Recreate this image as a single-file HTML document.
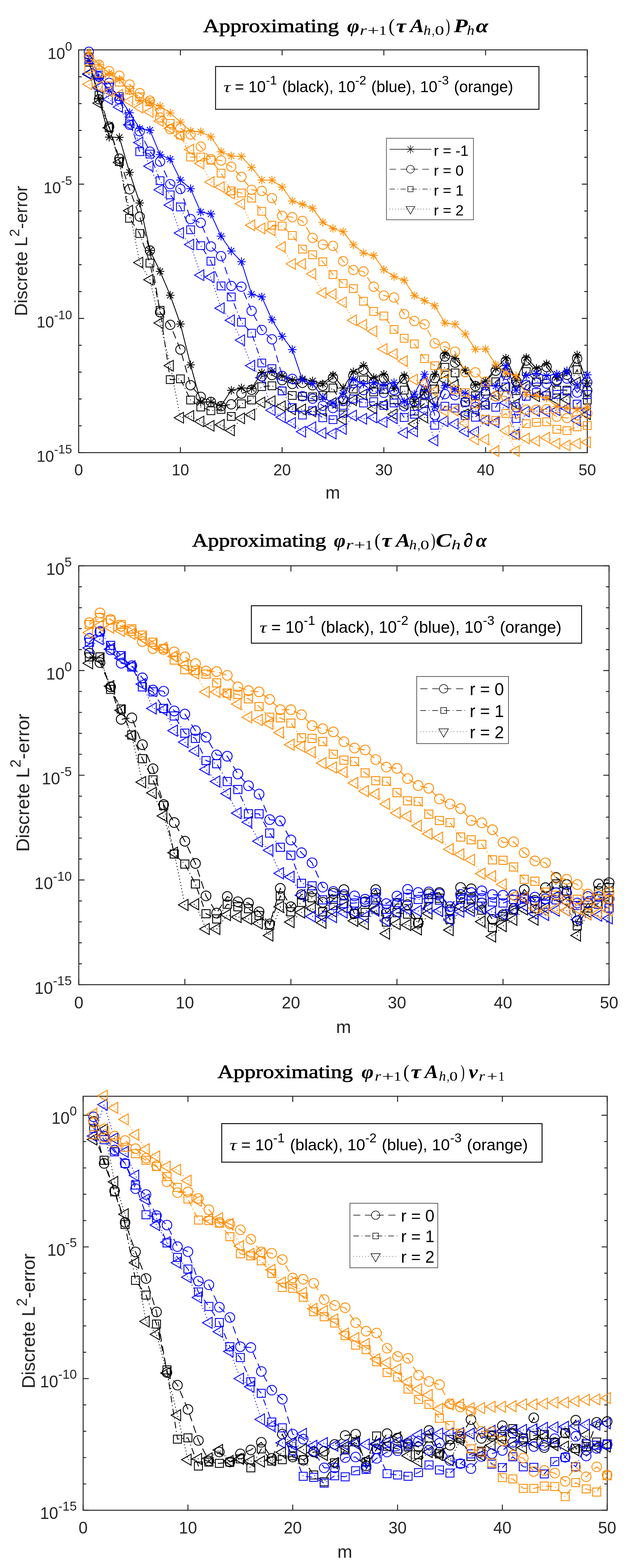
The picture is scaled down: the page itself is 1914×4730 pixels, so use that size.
<!DOCTYPE html>
<html><head><meta charset="utf-8"><title>Approximating plots</title>
<style>html,body{margin:0;padding:0;background:#fff;}svg{display:block;}</style>
</head><body>
<svg width="1914" height="4730" viewBox="0 0 1914 4730">
<rect width="1914" height="4730" fill="#fff"/>
<g stroke="#262626" stroke-width="2.9" fill="none">
<rect x="237.5" y="150.5" width="1535.5" height="1214.9"/>
<path d="M237.5 150.5H254M1773 150.5H1756.5M237.5 231.5H246.5M1773 231.5H1764M237.5 312.5H246.5M1773 312.5H1764M237.5 393.5H246.5M1773 393.5H1764M237.5 474.5H246.5M1773 474.5H1764M237.5 555.5H254M1773 555.5H1756.5M237.5 636.5H246.5M1773 636.5H1764M237.5 717.5H246.5M1773 717.5H1764M237.5 798.5H246.5M1773 798.5H1764M237.5 879.5H246.5M1773 879.5H1764M237.5 960.5H254M1773 960.5H1756.5M237.5 1041.5H246.5M1773 1041.5H1764M237.5 1122.5H246.5M1773 1122.5H1764M237.5 1203.5H246.5M1773 1203.5H1764M237.5 1284.5H246.5M1773 1284.5H1764M237.5 1365.5H254M1773 1365.5H1756.5M237.5 1365.4V1348.9M237.5 150.5V167M544.6 1365.4V1348.9M544.6 150.5V167M851.7 1365.4V1348.9M851.7 150.5V167M1158.8 1365.4V1348.9M1158.8 150.5V167M1465.9 1365.4V1348.9M1465.9 150.5V167M1773 1365.4V1348.9M1773 150.5V167"/>
</g>
<g fill="#262626" font-family="'Liberation Sans', Arial, Helvetica, sans-serif">
<text x="217.5" y="177.8" text-anchor="end" font-size="47.5">10<tspan font-size="37.5" dy="-25">0</tspan></text>
<text x="217.5" y="582.8" text-anchor="end" font-size="47.5">10<tspan font-size="37.5" dy="-25">-5</tspan></text>
<text x="217.5" y="987.8" text-anchor="end" font-size="47.5">10<tspan font-size="37.5" dy="-25">-10</tspan></text>
<text x="217.5" y="1392.8" text-anchor="end" font-size="47.5">10<tspan font-size="37.5" dy="-25">-15</tspan></text>
<text x="237.5" y="1434" text-anchor="middle" font-size="47.5">0</text>
<text x="544.6" y="1434" text-anchor="middle" font-size="47.5">10</text>
<text x="851.7" y="1434" text-anchor="middle" font-size="47.5">20</text>
<text x="1158.8" y="1434" text-anchor="middle" font-size="47.5">30</text>
<text x="1465.9" y="1434" text-anchor="middle" font-size="47.5">40</text>
<text x="1773" y="1434" text-anchor="middle" font-size="47.5">50</text>
</g>
<g stroke="#000000" fill="none" stroke-width="2.5">
<polyline points="268.2,182.9 298.9,297.9 329.6,413.8 360.3,414.6 391.1,519.9 421.8,612.2 452.5,755.6 483.2,818.8 513.9,890.8 544.6,977.5 575.3,1100.6 606,1212.4 636.7,1212.4 667.4,1223.8 698.2,1177.6 728.9,1170.3 759.6,1171.9 790.3,1124.1 821,1120.1 851.7,1133.8 882.4,1146.8 913.1,1142.8 943.8,1149.2 974.5,1158.1 1005.2,1131.4 1036,1170.3 1066.7,1121.7 1097.4,1102.2 1128.1,1138.7 1158.8,1129 1189.5,1171.1 1220.2,1133 1250.9,1211.6 1281.6,1182.4 1312.4,1129 1343.1,1065.8 1373.8,1081.2 1404.5,1116.8 1435.2,1161.4 1465.9,1149.2 1496.6,1111.2 1527.3,1080.4 1558,1146.8 1588.7,1078.8 1619.5,1111.2 1650.2,1097.4 1680.9,1138.7 1711.6,1122.5 1742.3,1070.7 1773,1155.7"/>
<path d="M268.2 169.9V195.9M255.2 182.9H281.2M259 173.7L277.4 192.1M259 192.1L277.4 173.7"/><path d="M298.9 284.9V310.9M285.9 297.9H311.9M289.7 288.7L308.1 307.1M289.7 307.1L308.1 288.7"/><path d="M329.6 400.8V426.8M316.6 413.8H342.6M320.4 404.6L338.8 422.9M320.4 422.9L338.8 404.6"/><path d="M360.3 401.6V427.6M347.3 414.6H373.3M351.1 405.4L369.5 423.8M351.1 423.8L369.5 405.4"/><path d="M391.1 506.9V532.9M378.1 519.9H404.1M381.9 510.7L400.2 529.1M381.9 529.1L400.2 510.7"/><path d="M421.8 599.2V625.2M408.8 612.2H434.8M412.6 603L431 621.4M412.6 621.4L431 603"/><path d="M452.5 742.6V768.6M439.5 755.6H465.5M443.3 746.4L461.7 764.8M443.3 764.8L461.7 746.4"/><path d="M483.2 805.8V831.8M470.2 818.8H496.2M474 809.6L492.4 827.9M474 827.9L492.4 809.6"/><path d="M513.9 877.8V903.8M500.9 890.8H526.9M504.7 881.6L523.1 900M504.7 900L523.1 881.6"/><path d="M544.6 964.5V990.5M531.6 977.5H557.6M535.4 968.3L553.8 986.7M535.4 986.7L553.8 968.3"/><path d="M575.3 1087.6V1113.6M562.3 1100.6H588.3M566.1 1091.4L584.5 1109.8M566.1 1109.8L584.5 1091.4"/><path d="M606 1199.4V1225.4M593 1212.4H619M596.8 1203.2L615.2 1221.6M596.8 1221.6L615.2 1203.2"/><path d="M636.7 1199.4V1225.4M623.7 1212.4H649.7M627.5 1203.2L645.9 1221.6M627.5 1221.6L645.9 1203.2"/><path d="M667.4 1210.8V1236.8M654.4 1223.8H680.4M658.2 1214.6L676.6 1232.9M658.2 1232.9L676.6 1214.6"/><path d="M698.2 1164.6V1190.6M685.2 1177.6H711.2M689 1168.4L707.3 1186.8M689 1186.8L707.3 1168.4"/><path d="M728.9 1157.3V1183.3M715.9 1170.3H741.9M719.7 1161.1L738.1 1179.5M719.7 1179.5L738.1 1161.1"/><path d="M759.6 1158.9V1184.9M746.6 1171.9H772.6M750.4 1162.7L768.8 1181.1M750.4 1181.1L768.8 1162.7"/><path d="M790.3 1111.1V1137.1M777.3 1124.1H803.3M781.1 1114.9L799.5 1133.3M781.1 1133.3L799.5 1114.9"/><path d="M821 1107.1V1133.1M808 1120.1H834M811.8 1110.9L830.2 1129.3M811.8 1129.3L830.2 1110.9"/><path d="M851.7 1120.8V1146.8M838.7 1133.8H864.7M842.5 1124.6L860.9 1143M842.5 1143L860.9 1124.6"/><path d="M882.4 1133.8V1159.8M869.4 1146.8H895.4M873.2 1137.6L891.6 1156M873.2 1156L891.6 1137.6"/><path d="M913.1 1129.8V1155.8M900.1 1142.8H926.1M903.9 1133.6L922.3 1151.9M903.9 1151.9L922.3 1133.6"/><path d="M943.8 1136.2V1162.2M930.8 1149.2H956.8M934.6 1140L953 1158.4M934.6 1158.4L953 1140"/><path d="M974.5 1145.1V1171.1M961.5 1158.1H987.5M965.3 1148.9L983.7 1167.3M965.3 1167.3L983.7 1148.9"/><path d="M1005.2 1118.4V1144.4M992.2 1131.4H1018.2M996.1 1122.2L1014.4 1140.6M996.1 1140.6L1014.4 1122.2"/><path d="M1036 1157.3V1183.3M1023 1170.3H1049M1026.8 1161.1L1045.2 1179.5M1026.8 1179.5L1045.2 1161.1"/><path d="M1066.7 1108.7V1134.7M1053.7 1121.7H1079.7M1057.5 1112.5L1075.9 1130.9M1057.5 1130.9L1075.9 1112.5"/><path d="M1097.4 1089.2V1115.2M1084.4 1102.2H1110.4M1088.2 1093.1L1106.6 1111.4M1088.2 1111.4L1106.6 1093.1"/><path d="M1128.1 1125.7V1151.7M1115.1 1138.7H1141.1M1118.9 1129.5L1137.3 1147.9M1118.9 1147.9L1137.3 1129.5"/><path d="M1158.8 1116V1142M1145.8 1129H1171.8M1149.6 1119.8L1168 1138.2M1149.6 1138.2L1168 1119.8"/><path d="M1189.5 1158.1V1184.1M1176.5 1171.1H1202.5M1180.3 1161.9L1198.7 1180.3M1180.3 1180.3L1198.7 1161.9"/><path d="M1220.2 1120V1146M1207.2 1133H1233.2M1211 1123.8L1229.4 1142.2M1211 1142.2L1229.4 1123.8"/><path d="M1250.9 1198.6V1224.6M1237.9 1211.6H1263.9M1241.7 1202.4L1260.1 1220.8M1241.7 1220.8L1260.1 1202.4"/><path d="M1281.6 1169.4V1195.4M1268.6 1182.4H1294.6M1272.4 1173.2L1290.8 1191.6M1272.4 1191.6L1290.8 1173.2"/><path d="M1312.4 1116V1142M1299.4 1129H1325.4M1303.2 1119.8L1321.5 1138.2M1303.2 1138.2L1321.5 1119.8"/><path d="M1343.1 1052.8V1078.8M1330.1 1065.8H1356.1M1333.9 1056.6L1352.3 1075M1333.9 1075L1352.3 1056.6"/><path d="M1373.8 1068.2V1094.2M1360.8 1081.2H1386.8M1364.6 1072L1383 1090.4M1364.6 1090.4L1383 1072"/><path d="M1404.5 1103.8V1129.8M1391.5 1116.8H1417.5M1395.3 1107.6L1413.7 1126M1395.3 1126L1413.7 1107.6"/><path d="M1435.2 1148.4V1174.4M1422.2 1161.4H1448.2M1426 1152.2L1444.4 1170.6M1426 1170.6L1444.4 1152.2"/><path d="M1465.9 1136.2V1162.2M1452.9 1149.2H1478.9M1456.7 1140L1475.1 1158.4M1456.7 1158.4L1475.1 1140"/><path d="M1496.6 1098.2V1124.2M1483.6 1111.2H1509.6M1487.4 1102L1505.8 1120.4M1487.4 1120.4L1505.8 1102"/><path d="M1527.3 1067.4V1093.4M1514.3 1080.4H1540.3M1518.1 1071.2L1536.5 1089.6M1518.1 1089.6L1536.5 1071.2"/><path d="M1558 1133.8V1159.8M1545 1146.8H1571M1548.8 1137.6L1567.2 1156M1548.8 1156L1567.2 1137.6"/><path d="M1588.7 1065.8V1091.8M1575.7 1078.8H1601.7M1579.5 1069.6L1597.9 1088M1579.5 1088L1597.9 1069.6"/><path d="M1619.5 1098.2V1124.2M1606.5 1111.2H1632.5M1610.3 1102L1628.6 1120.4M1610.3 1120.4L1628.6 1102"/><path d="M1650.2 1084.4V1110.4M1637.2 1097.4H1663.2M1641 1088.2L1659.4 1106.6M1641 1106.6L1659.4 1088.2"/><path d="M1680.9 1125.7V1151.7M1667.9 1138.7H1693.9M1671.7 1129.5L1690.1 1147.9M1671.7 1147.9L1690.1 1129.5"/><path d="M1711.6 1109.5V1135.5M1698.6 1122.5H1724.6M1702.4 1113.3L1720.8 1131.7M1702.4 1131.7L1720.8 1113.3"/><path d="M1742.3 1057.7V1083.7M1729.3 1070.7H1755.3M1733.1 1061.5L1751.5 1079.9M1733.1 1079.9L1751.5 1061.5"/><path d="M1773 1142.7V1168.7M1760 1155.7H1786M1763.8 1146.5L1782.2 1164.9M1763.8 1164.9L1782.2 1146.5"/>
</g>
<g stroke="#000000" fill="none" stroke-width="2.5">
<polyline points="268.2,172.4 298.9,299.5 329.6,382.2 360.3,478.6 391.1,570.9 421.8,653.5 452.5,755.6 483.2,941.9 513.9,979.9 544.6,1054.5 575.3,1162.2 606,1197 636.7,1212.4 667.4,1225.4 698.2,1219.7 728.9,1187.3 759.6,1176 790.3,1135.5 821,1131.4 851.7,1146.8 882.4,1158.1 913.1,1154.9 943.8,1162.2 974.5,1163.8 1005.2,1139.5 1036,1204.3 1066.7,1133 1097.4,1116 1128.1,1154.1 1158.8,1140.3 1189.5,1176.8 1220.2,1142.8 1250.9,1211.6 1281.6,1187.3 1312.4,1140.3 1343.1,1075.5 1373.8,1094.2 1404.5,1122.5 1435.2,1164.6 1465.9,1151.7 1496.6,1118.4 1527.3,1090.1 1558,1149.2 1588.7,1087.7 1619.5,1120.9 1650.2,1107.1 1680.9,1146 1711.6,1130.6 1742.3,1082 1773,1178.4" stroke-dasharray="22.5 13.8"/>
<circle cx="268.2" cy="172.4" r="14.1"/><circle cx="298.9" cy="299.5" r="14.1"/><circle cx="329.6" cy="382.2" r="14.1"/><circle cx="360.3" cy="478.6" r="14.1"/><circle cx="391.1" cy="570.9" r="14.1"/><circle cx="421.8" cy="653.5" r="14.1"/><circle cx="452.5" cy="755.6" r="14.1"/><circle cx="483.2" cy="941.9" r="14.1"/><circle cx="513.9" cy="979.9" r="14.1"/><circle cx="544.6" cy="1054.5" r="14.1"/><circle cx="575.3" cy="1162.2" r="14.1"/><circle cx="606" cy="1197" r="14.1"/><circle cx="636.7" cy="1212.4" r="14.1"/><circle cx="667.4" cy="1225.4" r="14.1"/><circle cx="698.2" cy="1219.7" r="14.1"/><circle cx="728.9" cy="1187.3" r="14.1"/><circle cx="759.6" cy="1176" r="14.1"/><circle cx="790.3" cy="1135.5" r="14.1"/><circle cx="821" cy="1131.4" r="14.1"/><circle cx="851.7" cy="1146.8" r="14.1"/><circle cx="882.4" cy="1158.1" r="14.1"/><circle cx="913.1" cy="1154.9" r="14.1"/><circle cx="943.8" cy="1162.2" r="14.1"/><circle cx="974.5" cy="1163.8" r="14.1"/><circle cx="1005.2" cy="1139.5" r="14.1"/><circle cx="1036" cy="1204.3" r="14.1"/><circle cx="1066.7" cy="1133" r="14.1"/><circle cx="1097.4" cy="1116" r="14.1"/><circle cx="1128.1" cy="1154.1" r="14.1"/><circle cx="1158.8" cy="1140.3" r="14.1"/><circle cx="1189.5" cy="1176.8" r="14.1"/><circle cx="1220.2" cy="1142.8" r="14.1"/><circle cx="1250.9" cy="1211.6" r="14.1"/><circle cx="1281.6" cy="1187.3" r="14.1"/><circle cx="1312.4" cy="1140.3" r="14.1"/><circle cx="1343.1" cy="1075.5" r="14.1"/><circle cx="1373.8" cy="1094.2" r="14.1"/><circle cx="1404.5" cy="1122.5" r="14.1"/><circle cx="1435.2" cy="1164.6" r="14.1"/><circle cx="1465.9" cy="1151.7" r="14.1"/><circle cx="1496.6" cy="1118.4" r="14.1"/><circle cx="1527.3" cy="1090.1" r="14.1"/><circle cx="1558" cy="1149.2" r="14.1"/><circle cx="1588.7" cy="1087.7" r="14.1"/><circle cx="1619.5" cy="1120.9" r="14.1"/><circle cx="1650.2" cy="1107.1" r="14.1"/><circle cx="1680.9" cy="1146" r="14.1"/><circle cx="1711.6" cy="1130.6" r="14.1"/><circle cx="1742.3" cy="1082" r="14.1"/><circle cx="1773" cy="1178.4" r="14.1"/>
</g>
<g stroke="#000000" fill="none" stroke-width="2.5">
<polyline points="268.2,187.8 298.9,286.6 329.6,385.4 360.3,487.5 391.1,658.4 421.8,704.5 452.5,793.6 483.2,936.2 513.9,1145.2 544.6,1142.8 575.3,1206.7 606,1227.8 636.7,1239.1 667.4,1235.1 698.2,1256.2 728.9,1218.1 759.6,1206.7 790.3,1166.2 821,1163.8 851.7,1179.2 882.4,1193 913.1,1195.4 943.8,1197 974.5,1193 1005.2,1170.3 1036,1227.8 1066.7,1173.5 1097.4,1146 1128.1,1182.4 1158.8,1175.2 1189.5,1205.9 1220.2,1176.8 1250.9,1240 1281.6,1217.3 1312.4,1173.5 1343.1,1107.9 1373.8,1124.9 1404.5,1213.2 1435.2,1193.8 1465.9,1180 1496.6,1151.7 1527.3,1124.9 1558,1178.4 1588.7,1120.9 1619.5,1151.7 1650.2,1143.6 1680.9,1176.8 1711.6,1176.8 1742.3,1115.2 1773,1206.7" stroke-dasharray="19 8.3 2.5 8.3"/>
<rect x="256.4" y="176" width="23.6" height="23.6"/><rect x="287.1" y="274.8" width="23.6" height="23.6"/><rect x="317.8" y="373.6" width="23.6" height="23.6"/><rect x="348.5" y="475.7" width="23.6" height="23.6"/><rect x="379.2" y="646.6" width="23.6" height="23.6"/><rect x="410" y="692.7" width="23.6" height="23.6"/><rect x="440.7" y="781.8" width="23.6" height="23.6"/><rect x="471.4" y="924.4" width="23.6" height="23.6"/><rect x="502.1" y="1133.4" width="23.6" height="23.6"/><rect x="532.8" y="1131" width="23.6" height="23.6"/><rect x="563.5" y="1194.9" width="23.6" height="23.6"/><rect x="594.2" y="1216" width="23.6" height="23.6"/><rect x="624.9" y="1227.3" width="23.6" height="23.6"/><rect x="655.6" y="1223.3" width="23.6" height="23.6"/><rect x="686.4" y="1244.4" width="23.6" height="23.6"/><rect x="717.1" y="1206.3" width="23.6" height="23.6"/><rect x="747.8" y="1194.9" width="23.6" height="23.6"/><rect x="778.5" y="1154.4" width="23.6" height="23.6"/><rect x="809.2" y="1152" width="23.6" height="23.6"/><rect x="839.9" y="1167.4" width="23.6" height="23.6"/><rect x="870.6" y="1181.2" width="23.6" height="23.6"/><rect x="901.3" y="1183.6" width="23.6" height="23.6"/><rect x="932" y="1185.2" width="23.6" height="23.6"/><rect x="962.7" y="1181.2" width="23.6" height="23.6"/><rect x="993.5" y="1158.5" width="23.6" height="23.6"/><rect x="1024.2" y="1216" width="23.6" height="23.6"/><rect x="1054.9" y="1161.7" width="23.6" height="23.6"/><rect x="1085.6" y="1134.2" width="23.6" height="23.6"/><rect x="1116.3" y="1170.6" width="23.6" height="23.6"/><rect x="1147" y="1163.4" width="23.6" height="23.6"/><rect x="1177.7" y="1194.1" width="23.6" height="23.6"/><rect x="1208.4" y="1165" width="23.6" height="23.6"/><rect x="1239.1" y="1228.2" width="23.6" height="23.6"/><rect x="1269.8" y="1205.5" width="23.6" height="23.6"/><rect x="1300.6" y="1161.7" width="23.6" height="23.6"/><rect x="1331.3" y="1096.1" width="23.6" height="23.6"/><rect x="1362" y="1113.1" width="23.6" height="23.6"/><rect x="1392.7" y="1201.4" width="23.6" height="23.6"/><rect x="1423.4" y="1182" width="23.6" height="23.6"/><rect x="1454.1" y="1168.2" width="23.6" height="23.6"/><rect x="1484.8" y="1139.9" width="23.6" height="23.6"/><rect x="1515.5" y="1113.1" width="23.6" height="23.6"/><rect x="1546.2" y="1166.6" width="23.6" height="23.6"/><rect x="1576.9" y="1109.1" width="23.6" height="23.6"/><rect x="1607.7" y="1139.9" width="23.6" height="23.6"/><rect x="1638.4" y="1131.8" width="23.6" height="23.6"/><rect x="1669.1" y="1165" width="23.6" height="23.6"/><rect x="1699.8" y="1165" width="23.6" height="23.6"/><rect x="1730.5" y="1103.4" width="23.6" height="23.6"/><rect x="1761.2" y="1194.9" width="23.6" height="23.6"/>
</g>
<g stroke="#000000" fill="none" stroke-width="2.5">
<polyline points="268.2,224.2 298.9,310.9 329.6,385.4 360.3,489.9 391.1,635.7 421.8,792 452.5,843.9 483.2,974.3 513.9,1103.1 544.6,1260.2 575.3,1254.5 606,1271.5 636.7,1284.5 667.4,1281.3 698.2,1298.3 728.9,1261.8 759.6,1250.5 790.3,1214 821,1210 851.7,1225.4 882.4,1235.1 913.1,1235.1 943.8,1240.8 974.5,1239.1 1005.2,1215.7 1036,1265.9 1066.7,1207.5 1097.4,1190.5 1128.1,1232.7 1158.8,1221.3 1189.5,1249.7 1220.2,1219.7 1250.9,1278.8 1281.6,1259.4 1312.4,1210 1343.1,1146 1373.8,1161.4 1404.5,1249.7 1435.2,1237.5 1465.9,1218.9 1496.6,1191.3 1527.3,1168.7 1558,1218.9 1588.7,1164.6 1619.5,1195.4 1650.2,1188.1 1680.9,1206.7 1711.6,1205.1 1742.3,1153.3 1773,1249.7" stroke-dasharray="2.5 6.9"/>
<polygon points="249.5,224.2 277.6,208 277.6,240.4"/><polygon points="280.2,310.9 308.3,294.7 308.3,327.1"/><polygon points="310.9,385.4 339,369.2 339,401.6"/><polygon points="341.6,489.9 369.7,473.7 369.7,506.1"/><polygon points="372.4,635.7 400.4,619.5 400.4,651.9"/><polygon points="403.1,792 431.1,775.8 431.1,808.2"/><polygon points="433.8,843.9 461.8,827.7 461.8,860.1"/><polygon points="464.5,974.3 492.5,958.1 492.5,990.5"/><polygon points="495.2,1103.1 523.2,1086.9 523.2,1119.3"/><polygon points="525.9,1260.2 554,1244 554,1276.4"/><polygon points="556.6,1254.5 584.7,1238.3 584.7,1270.7"/><polygon points="587.3,1271.5 615.4,1255.3 615.4,1287.7"/><polygon points="618,1284.5 646.1,1268.3 646.1,1300.7"/><polygon points="648.7,1281.3 676.8,1265.1 676.8,1297.5"/><polygon points="679.5,1298.3 707.5,1282.1 707.5,1314.5"/><polygon points="710.2,1261.8 738.2,1245.6 738.2,1278"/><polygon points="740.9,1250.5 768.9,1234.3 768.9,1266.7"/><polygon points="771.6,1214 799.6,1197.8 799.6,1230.2"/><polygon points="802.3,1210 830.3,1193.8 830.3,1226.2"/><polygon points="833,1225.4 861.1,1209.2 861.1,1241.6"/><polygon points="863.7,1235.1 891.8,1218.9 891.8,1251.3"/><polygon points="894.4,1235.1 922.5,1218.9 922.5,1251.3"/><polygon points="925.1,1240.8 953.2,1224.6 953.2,1257"/><polygon points="955.8,1239.1 983.9,1222.9 983.9,1255.3"/><polygon points="986.5,1215.7 1014.6,1199.5 1014.6,1231.8"/><polygon points="1017.3,1265.9 1045.3,1249.7 1045.3,1282.1"/><polygon points="1048,1207.5 1076,1191.4 1076,1223.7"/><polygon points="1078.7,1190.5 1106.7,1174.3 1106.7,1206.7"/><polygon points="1109.4,1232.7 1137.4,1216.5 1137.4,1248.9"/><polygon points="1140.1,1221.3 1168.2,1205.1 1168.2,1237.5"/><polygon points="1170.8,1249.7 1198.9,1233.5 1198.9,1265.9"/><polygon points="1201.5,1219.7 1229.6,1203.5 1229.6,1235.9"/><polygon points="1232.2,1278.8 1260.3,1262.6 1260.3,1295"/><polygon points="1262.9,1259.4 1291,1243.2 1291,1275.6"/><polygon points="1293.7,1210 1321.7,1193.8 1321.7,1226.2"/><polygon points="1324.4,1146 1352.4,1129.8 1352.4,1162.2"/><polygon points="1355.1,1161.4 1383.1,1145.2 1383.1,1177.6"/><polygon points="1385.8,1249.7 1413.8,1233.5 1413.8,1265.9"/><polygon points="1416.5,1237.5 1444.5,1221.3 1444.5,1253.7"/><polygon points="1447.2,1218.9 1475.2,1202.7 1475.2,1235.1"/><polygon points="1477.9,1191.3 1506,1175.2 1506,1207.5"/><polygon points="1508.6,1168.7 1536.7,1152.5 1536.7,1184.9"/><polygon points="1539.3,1218.9 1567.4,1202.7 1567.4,1235.1"/><polygon points="1570,1164.6 1598.1,1148.4 1598.1,1180.8"/><polygon points="1600.8,1195.4 1628.8,1179.2 1628.8,1211.6"/><polygon points="1631.5,1188.1 1659.5,1171.9 1659.5,1204.3"/><polygon points="1662.2,1206.7 1690.2,1190.5 1690.2,1222.9"/><polygon points="1692.9,1205.1 1720.9,1188.9 1720.9,1221.3"/><polygon points="1723.6,1153.3 1751.6,1137.1 1751.6,1169.5"/><polygon points="1754.3,1249.7 1782.3,1233.5 1782.3,1265.9"/>
</g>
<g stroke="#0000FF" fill="none" stroke-width="2.5">
<polyline points="268.2,182.9 298.9,235.6 329.6,274.4 360.3,292.2 391.1,340 421.8,387.8 452.5,392.7 483.2,466.4 513.9,480.2 544.6,543.3 575.3,569.3 606,639.7 636.7,645.4 667.4,712.6 698.2,757.2 728.9,789.6 759.6,887.6 790.3,895.7 821,964.6 851.7,1014.8 882.4,1054.5 913.1,1146.8 943.8,1158.1 974.5,1198.6 1005.2,1215.7 1036,1185.7 1066.7,1144.4 1097.4,1158.1 1128.1,1154.1 1158.8,1161.4 1189.5,1154.1 1220.2,1211.6 1250.9,1188.9 1281.6,1129 1312.4,1227 1343.1,1163.8 1373.8,1175.2 1404.5,1185.7 1435.2,1199.5 1465.9,1163 1496.6,1164.6 1527.3,1103.1 1558,1176.8 1588.7,1132.2 1619.5,1126.6 1650.2,1133.8 1680.9,1128.2 1711.6,1118.4 1742.3,1161.4 1773,1130.6"/>
<path d="M268.2 169.9V195.9M255.2 182.9H281.2M259 173.7L277.4 192.1M259 192.1L277.4 173.7"/><path d="M298.9 222.6V248.6M285.9 235.6H311.9M289.7 226.4L308.1 244.7M289.7 244.7L308.1 226.4"/><path d="M329.6 261.4V287.4M316.6 274.4H342.6M320.4 265.2L338.8 283.6M320.4 283.6L338.8 265.2"/><path d="M360.3 279.2V305.2M347.3 292.2H373.3M351.1 283.1L369.5 301.4M351.1 301.4L369.5 283.1"/><path d="M391.1 327V353M378.1 340H404.1M381.9 330.8L400.2 349.2M381.9 349.2L400.2 330.8"/><path d="M421.8 374.8V400.8M408.8 387.8H434.8M412.6 378.6L431 397M412.6 397L431 378.6"/><path d="M452.5 379.7V405.7M439.5 392.7H465.5M443.3 383.5L461.7 401.9M443.3 401.9L461.7 383.5"/><path d="M483.2 453.4V479.4M470.2 466.4H496.2M474 457.2L492.4 475.6M474 475.6L492.4 457.2"/><path d="M513.9 467.2V493.2M500.9 480.2H526.9M504.7 471L523.1 489.4M504.7 489.4L523.1 471"/><path d="M544.6 530.3V556.3M531.6 543.3H557.6M535.4 534.2L553.8 552.5M535.4 552.5L553.8 534.2"/><path d="M575.3 556.3V582.3M562.3 569.3H588.3M566.1 560.1L584.5 578.5M566.1 578.5L584.5 560.1"/><path d="M606 626.7V652.7M593 639.7H619M596.8 630.5L615.2 648.9M596.8 648.9L615.2 630.5"/><path d="M636.7 632.4V658.4M623.7 645.4H649.7M627.5 636.2L645.9 654.6M627.5 654.6L645.9 636.2"/><path d="M667.4 699.6V725.6M654.4 712.6H680.4M658.2 703.4L676.6 721.8M658.2 721.8L676.6 703.4"/><path d="M698.2 744.2V770.2M685.2 757.2H711.2M689 748L707.3 766.4M689 766.4L707.3 748"/><path d="M728.9 776.6V802.6M715.9 789.6H741.9M719.7 780.4L738.1 798.8M719.7 798.8L738.1 780.4"/><path d="M759.6 874.6V900.6M746.6 887.6H772.6M750.4 878.4L768.8 896.8M750.4 896.8L768.8 878.4"/><path d="M790.3 882.7V908.7M777.3 895.7H803.3M781.1 886.5L799.5 904.9M781.1 904.9L799.5 886.5"/><path d="M821 951.6V977.6M808 964.6H834M811.8 955.4L830.2 973.7M811.8 973.7L830.2 955.4"/><path d="M851.7 1001.8V1027.8M838.7 1014.8H864.7M842.5 1005.6L860.9 1024M842.5 1024L860.9 1005.6"/><path d="M882.4 1041.5V1067.5M869.4 1054.5H895.4M873.2 1045.3L891.6 1063.7M873.2 1063.7L891.6 1045.3"/><path d="M913.1 1133.8V1159.8M900.1 1146.8H926.1M903.9 1137.6L922.3 1156M903.9 1156L922.3 1137.6"/><path d="M943.8 1145.1V1171.1M930.8 1158.1H956.8M934.6 1148.9L953 1167.3M934.6 1167.3L953 1148.9"/><path d="M974.5 1185.6V1211.6M961.5 1198.6H987.5M965.3 1189.4L983.7 1207.8M965.3 1207.8L983.7 1189.4"/><path d="M1005.2 1202.7V1228.7M992.2 1215.7H1018.2M996.1 1206.5L1014.4 1224.8M996.1 1224.8L1014.4 1206.5"/><path d="M1036 1172.7V1198.7M1023 1185.7H1049M1026.8 1176.5L1045.2 1194.9M1026.8 1194.9L1045.2 1176.5"/><path d="M1066.7 1131.4V1157.4M1053.7 1144.4H1079.7M1057.5 1135.2L1075.9 1153.6M1057.5 1153.6L1075.9 1135.2"/><path d="M1097.4 1145.1V1171.1M1084.4 1158.1H1110.4M1088.2 1148.9L1106.6 1167.3M1088.2 1167.3L1106.6 1148.9"/><path d="M1128.1 1141.1V1167.1M1115.1 1154.1H1141.1M1118.9 1144.9L1137.3 1163.3M1118.9 1163.3L1137.3 1144.9"/><path d="M1158.8 1148.4V1174.4M1145.8 1161.4H1171.8M1149.6 1152.2L1168 1170.6M1149.6 1170.6L1168 1152.2"/><path d="M1189.5 1141.1V1167.1M1176.5 1154.1H1202.5M1180.3 1144.9L1198.7 1163.3M1180.3 1163.3L1198.7 1144.9"/><path d="M1220.2 1198.6V1224.6M1207.2 1211.6H1233.2M1211 1202.4L1229.4 1220.8M1211 1220.8L1229.4 1202.4"/><path d="M1250.9 1175.9V1201.9M1237.9 1188.9H1263.9M1241.7 1179.7L1260.1 1198.1M1241.7 1198.1L1260.1 1179.7"/><path d="M1281.6 1116V1142M1268.6 1129H1294.6M1272.4 1119.8L1290.8 1138.2M1272.4 1138.2L1290.8 1119.8"/><path d="M1312.4 1214V1240M1299.4 1227H1325.4M1303.2 1217.8L1321.5 1236.2M1303.2 1236.2L1321.5 1217.8"/><path d="M1343.1 1150.8V1176.8M1330.1 1163.8H1356.1M1333.9 1154.6L1352.3 1173M1333.9 1173L1352.3 1154.6"/><path d="M1373.8 1162.2V1188.2M1360.8 1175.2H1386.8M1364.6 1166L1383 1184.3M1364.6 1184.3L1383 1166"/><path d="M1404.5 1172.7V1198.7M1391.5 1185.7H1417.5M1395.3 1176.5L1413.7 1194.9M1395.3 1194.9L1413.7 1176.5"/><path d="M1435.2 1186.5V1212.5M1422.2 1199.5H1448.2M1426 1190.3L1444.4 1208.6M1426 1208.6L1444.4 1190.3"/><path d="M1465.9 1150V1176M1452.9 1163H1478.9M1456.7 1153.8L1475.1 1172.2M1456.7 1172.2L1475.1 1153.8"/><path d="M1496.6 1151.6V1177.6M1483.6 1164.6H1509.6M1487.4 1155.4L1505.8 1173.8M1487.4 1173.8L1505.8 1155.4"/><path d="M1527.3 1090.1V1116.1M1514.3 1103.1H1540.3M1518.1 1093.9L1536.5 1112.3M1518.1 1112.3L1536.5 1093.9"/><path d="M1558 1163.8V1189.8M1545 1176.8H1571M1548.8 1167.6L1567.2 1186M1548.8 1186L1567.2 1167.6"/><path d="M1588.7 1119.2V1145.2M1575.7 1132.2H1601.7M1579.5 1123L1597.9 1141.4M1579.5 1141.4L1597.9 1123"/><path d="M1619.5 1113.6V1139.6M1606.5 1126.6H1632.5M1610.3 1117.4L1628.6 1135.7M1610.3 1135.7L1628.6 1117.4"/><path d="M1650.2 1120.8V1146.8M1637.2 1133.8H1663.2M1641 1124.6L1659.4 1143M1641 1143L1659.4 1124.6"/><path d="M1680.9 1115.2V1141.2M1667.9 1128.2H1693.9M1671.7 1119L1690.1 1137.4M1671.7 1137.4L1690.1 1119"/><path d="M1711.6 1105.4V1131.4M1698.6 1118.4H1724.6M1702.4 1109.3L1720.8 1127.6M1702.4 1127.6L1720.8 1109.3"/><path d="M1742.3 1148.4V1174.4M1729.3 1161.4H1755.3M1733.1 1152.2L1751.5 1170.6M1733.1 1170.6L1751.5 1152.2"/><path d="M1773 1117.6V1143.6M1760 1130.6H1786M1763.8 1121.4L1782.2 1139.8M1763.8 1139.8L1782.2 1121.4"/>
</g>
<g stroke="#0000FF" fill="none" stroke-width="2.5">
<polyline points="268.2,156.2 298.9,231.5 329.6,250.1 360.3,299.5 391.1,376.5 421.8,395.9 452.5,457.5 483.2,487.5 513.9,555.5 544.6,570.1 575.3,660.8 606,672.1 636.7,743.4 667.4,772.6 698.2,862.5 728.9,864.9 759.6,937.8 790.3,995.3 821,1023.7 851.7,1133.8 882.4,1142.8 913.1,1195.4 943.8,1202.7 974.5,1223.8 1005.2,1231 1036,1210 1066.7,1155.7 1097.4,1176.8 1128.1,1173.5 1158.8,1184.9 1189.5,1176.8 1220.2,1225.4 1250.9,1210 1281.6,1154.1 1312.4,1252.1 1343.1,1188.9 1373.8,1192.2 1404.5,1213.2 1435.2,1227.8 1465.9,1188.1 1496.6,1195.4 1527.3,1130.6 1558,1228.6 1588.7,1161.4 1619.5,1154.9 1650.2,1157.3 1680.9,1149.2 1711.6,1141.9 1742.3,1184.1 1773,1153.3" stroke-dasharray="22.5 13.8"/>
<circle cx="268.2" cy="156.2" r="14.1"/><circle cx="298.9" cy="231.5" r="14.1"/><circle cx="329.6" cy="250.1" r="14.1"/><circle cx="360.3" cy="299.5" r="14.1"/><circle cx="391.1" cy="376.5" r="14.1"/><circle cx="421.8" cy="395.9" r="14.1"/><circle cx="452.5" cy="457.5" r="14.1"/><circle cx="483.2" cy="487.5" r="14.1"/><circle cx="513.9" cy="555.5" r="14.1"/><circle cx="544.6" cy="570.1" r="14.1"/><circle cx="575.3" cy="660.8" r="14.1"/><circle cx="606" cy="672.1" r="14.1"/><circle cx="636.7" cy="743.4" r="14.1"/><circle cx="667.4" cy="772.6" r="14.1"/><circle cx="698.2" cy="862.5" r="14.1"/><circle cx="728.9" cy="864.9" r="14.1"/><circle cx="759.6" cy="937.8" r="14.1"/><circle cx="790.3" cy="995.3" r="14.1"/><circle cx="821" cy="1023.7" r="14.1"/><circle cx="851.7" cy="1133.8" r="14.1"/><circle cx="882.4" cy="1142.8" r="14.1"/><circle cx="913.1" cy="1195.4" r="14.1"/><circle cx="943.8" cy="1202.7" r="14.1"/><circle cx="974.5" cy="1223.8" r="14.1"/><circle cx="1005.2" cy="1231" r="14.1"/><circle cx="1036" cy="1210" r="14.1"/><circle cx="1066.7" cy="1155.7" r="14.1"/><circle cx="1097.4" cy="1176.8" r="14.1"/><circle cx="1128.1" cy="1173.5" r="14.1"/><circle cx="1158.8" cy="1184.9" r="14.1"/><circle cx="1189.5" cy="1176.8" r="14.1"/><circle cx="1220.2" cy="1225.4" r="14.1"/><circle cx="1250.9" cy="1210" r="14.1"/><circle cx="1281.6" cy="1154.1" r="14.1"/><circle cx="1312.4" cy="1252.1" r="14.1"/><circle cx="1343.1" cy="1188.9" r="14.1"/><circle cx="1373.8" cy="1192.2" r="14.1"/><circle cx="1404.5" cy="1213.2" r="14.1"/><circle cx="1435.2" cy="1227.8" r="14.1"/><circle cx="1465.9" cy="1188.1" r="14.1"/><circle cx="1496.6" cy="1195.4" r="14.1"/><circle cx="1527.3" cy="1130.6" r="14.1"/><circle cx="1558" cy="1228.6" r="14.1"/><circle cx="1588.7" cy="1161.4" r="14.1"/><circle cx="1619.5" cy="1154.9" r="14.1"/><circle cx="1650.2" cy="1157.3" r="14.1"/><circle cx="1680.9" cy="1149.2" r="14.1"/><circle cx="1711.6" cy="1141.9" r="14.1"/><circle cx="1742.3" cy="1184.1" r="14.1"/><circle cx="1773" cy="1153.3" r="14.1"/>
</g>
<g stroke="#0000FF" fill="none" stroke-width="2.5">
<polyline points="268.2,178.8 298.9,226.6 329.6,263.1 360.3,291.4 391.1,365.1 421.8,457.5 452.5,464.8 483.2,545 513.9,587.9 544.6,624.3 575.3,693.2 606,741 636.7,788 667.4,862.5 698.2,895.7 728.9,971.8 759.6,1005.1 790.3,1095 821,1112 851.7,1179.2 882.4,1229.4 913.1,1252.1 943.8,1239.1 974.5,1260.2 1005.2,1265.9 1036,1246.4 1066.7,1203.5 1097.4,1215.7 1128.1,1211.6 1158.8,1222.9 1189.5,1215.7 1220.2,1259.4 1250.9,1249.7 1281.6,1190.5 1312.4,1282.9 1343.1,1225.4 1373.8,1231 1404.5,1253.7 1435.2,1258.6 1465.9,1222.1 1496.6,1228.6 1527.3,1167.1 1558,1262.6 1588.7,1195.4 1619.5,1184.1 1650.2,1193.8 1680.9,1189.7 1711.6,1180 1742.3,1218.9 1773,1189.7" stroke-dasharray="19 8.3 2.5 8.3"/>
<rect x="256.4" y="167" width="23.6" height="23.6"/><rect x="287.1" y="214.8" width="23.6" height="23.6"/><rect x="317.8" y="251.3" width="23.6" height="23.6"/><rect x="348.5" y="279.6" width="23.6" height="23.6"/><rect x="379.2" y="353.3" width="23.6" height="23.6"/><rect x="410" y="445.7" width="23.6" height="23.6"/><rect x="440.7" y="453" width="23.6" height="23.6"/><rect x="471.4" y="533.2" width="23.6" height="23.6"/><rect x="502.1" y="576.1" width="23.6" height="23.6"/><rect x="532.8" y="612.5" width="23.6" height="23.6"/><rect x="563.5" y="681.4" width="23.6" height="23.6"/><rect x="594.2" y="729.2" width="23.6" height="23.6"/><rect x="624.9" y="776.2" width="23.6" height="23.6"/><rect x="655.6" y="850.7" width="23.6" height="23.6"/><rect x="686.4" y="883.9" width="23.6" height="23.6"/><rect x="717.1" y="960" width="23.6" height="23.6"/><rect x="747.8" y="993.3" width="23.6" height="23.6"/><rect x="778.5" y="1083.2" width="23.6" height="23.6"/><rect x="809.2" y="1100.2" width="23.6" height="23.6"/><rect x="839.9" y="1167.4" width="23.6" height="23.6"/><rect x="870.6" y="1217.6" width="23.6" height="23.6"/><rect x="901.3" y="1240.3" width="23.6" height="23.6"/><rect x="932" y="1227.3" width="23.6" height="23.6"/><rect x="962.7" y="1248.4" width="23.6" height="23.6"/><rect x="993.5" y="1254.1" width="23.6" height="23.6"/><rect x="1024.2" y="1234.6" width="23.6" height="23.6"/><rect x="1054.9" y="1191.7" width="23.6" height="23.6"/><rect x="1085.6" y="1203.9" width="23.6" height="23.6"/><rect x="1116.3" y="1199.8" width="23.6" height="23.6"/><rect x="1147" y="1211.1" width="23.6" height="23.6"/><rect x="1177.7" y="1203.9" width="23.6" height="23.6"/><rect x="1208.4" y="1247.6" width="23.6" height="23.6"/><rect x="1239.1" y="1237.9" width="23.6" height="23.6"/><rect x="1269.8" y="1178.7" width="23.6" height="23.6"/><rect x="1300.6" y="1271.1" width="23.6" height="23.6"/><rect x="1331.3" y="1213.6" width="23.6" height="23.6"/><rect x="1362" y="1219.2" width="23.6" height="23.6"/><rect x="1392.7" y="1241.9" width="23.6" height="23.6"/><rect x="1423.4" y="1246.8" width="23.6" height="23.6"/><rect x="1454.1" y="1210.3" width="23.6" height="23.6"/><rect x="1484.8" y="1216.8" width="23.6" height="23.6"/><rect x="1515.5" y="1155.3" width="23.6" height="23.6"/><rect x="1546.2" y="1250.8" width="23.6" height="23.6"/><rect x="1576.9" y="1183.6" width="23.6" height="23.6"/><rect x="1607.7" y="1172.3" width="23.6" height="23.6"/><rect x="1638.4" y="1182" width="23.6" height="23.6"/><rect x="1669.1" y="1177.9" width="23.6" height="23.6"/><rect x="1699.8" y="1168.2" width="23.6" height="23.6"/><rect x="1730.5" y="1207.1" width="23.6" height="23.6"/><rect x="1761.2" y="1177.9" width="23.6" height="23.6"/>
</g>
<g stroke="#0000FF" fill="none" stroke-width="2.5">
<polyline points="268.2,222.6 298.9,264.7 329.6,299.5 360.3,323 391.1,376.5 421.8,429.9 452.5,501.2 483.2,572.5 513.9,618.7 544.6,702.9 575.3,737.8 606,830.1 636.7,835.8 667.4,929.7 698.2,966.2 728.9,1026.1 759.6,1103.1 790.3,1139.5 821,1237.5 851.7,1258.6 882.4,1275.6 913.1,1302.3 943.8,1288.5 974.5,1306.4 1005.2,1308 1036,1294.2 1066.7,1253.7 1097.4,1263.4 1128.1,1259.4 1158.8,1273.2 1189.5,1261.8 1220.2,1305.6 1250.9,1301.5 1281.6,1238.3 1312.4,1329 1343.1,1270.7 1373.8,1278.8 1404.5,1301.5 1435.2,1303.1 1465.9,1268.3 1496.6,1274 1527.3,1214.8 1558,1310.4 1588.7,1241.6 1619.5,1240 1650.2,1241.6 1680.9,1237.5 1711.6,1231.8 1742.3,1268.3 1773,1237.5" stroke-dasharray="2.5 6.9"/>
<polygon points="249.5,222.6 277.6,206.4 277.6,238.8"/><polygon points="280.2,264.7 308.3,248.5 308.3,280.9"/><polygon points="310.9,299.5 339,283.3 339,315.7"/><polygon points="341.6,323 369.7,306.8 369.7,339.2"/><polygon points="372.4,376.5 400.4,360.3 400.4,392.7"/><polygon points="403.1,429.9 431.1,413.8 431.1,446.1"/><polygon points="433.8,501.2 461.8,485 461.8,517.4"/><polygon points="464.5,572.5 492.5,556.3 492.5,588.7"/><polygon points="495.2,618.7 523.2,602.5 523.2,634.9"/><polygon points="525.9,702.9 554,686.7 554,719.1"/><polygon points="556.6,737.8 584.7,721.6 584.7,753.9"/><polygon points="587.3,830.1 615.4,813.9 615.4,846.3"/><polygon points="618,835.8 646.1,819.6 646.1,852"/><polygon points="648.7,929.7 676.8,913.5 676.8,945.9"/><polygon points="679.5,966.2 707.5,950 707.5,982.4"/><polygon points="710.2,1026.1 738.2,1009.9 738.2,1042.3"/><polygon points="740.9,1103.1 768.9,1086.9 768.9,1119.3"/><polygon points="771.6,1139.5 799.6,1123.3 799.6,1155.7"/><polygon points="802.3,1237.5 830.3,1221.3 830.3,1253.7"/><polygon points="833,1258.6 861.1,1242.4 861.1,1274.8"/><polygon points="863.7,1275.6 891.8,1259.4 891.8,1291.8"/><polygon points="894.4,1302.3 922.5,1286.1 922.5,1318.5"/><polygon points="925.1,1288.5 953.2,1272.4 953.2,1304.7"/><polygon points="955.8,1306.4 983.9,1290.2 983.9,1322.6"/><polygon points="986.5,1308 1014.6,1291.8 1014.6,1324.2"/><polygon points="1017.3,1294.2 1045.3,1278 1045.3,1310.4"/><polygon points="1048,1253.7 1076,1237.5 1076,1269.9"/><polygon points="1078.7,1263.4 1106.7,1247.2 1106.7,1279.6"/><polygon points="1109.4,1259.4 1137.4,1243.2 1137.4,1275.6"/><polygon points="1140.1,1273.2 1168.2,1257 1168.2,1289.4"/><polygon points="1170.8,1261.8 1198.9,1245.6 1198.9,1278"/><polygon points="1201.5,1305.6 1229.6,1289.4 1229.6,1321.8"/><polygon points="1232.2,1301.5 1260.3,1285.3 1260.3,1317.7"/><polygon points="1262.9,1238.3 1291,1222.1 1291,1254.5"/><polygon points="1293.7,1329 1321.7,1312.9 1321.7,1345.2"/><polygon points="1324.4,1270.7 1352.4,1254.5 1352.4,1286.9"/><polygon points="1355.1,1278.8 1383.1,1262.6 1383.1,1295"/><polygon points="1385.8,1301.5 1413.8,1285.3 1413.8,1317.7"/><polygon points="1416.5,1303.1 1444.5,1286.9 1444.5,1319.3"/><polygon points="1447.2,1268.3 1475.2,1252.1 1475.2,1284.5"/><polygon points="1477.9,1274 1506,1257.8 1506,1290.2"/><polygon points="1508.6,1214.8 1536.7,1198.6 1536.7,1231"/><polygon points="1539.3,1310.4 1567.4,1294.2 1567.4,1326.6"/><polygon points="1570,1241.6 1598.1,1225.4 1598.1,1257.8"/><polygon points="1600.8,1240 1628.8,1223.8 1628.8,1256.1"/><polygon points="1631.5,1241.6 1659.5,1225.4 1659.5,1257.8"/><polygon points="1662.2,1237.5 1690.2,1221.3 1690.2,1253.7"/><polygon points="1692.9,1231.8 1720.9,1215.7 1720.9,1248"/><polygon points="1723.6,1268.3 1751.6,1252.1 1751.6,1284.5"/><polygon points="1754.3,1237.5 1782.3,1221.3 1782.3,1253.7"/>
</g>
<g stroke="#FF8C00" fill="none" stroke-width="2.5">
<polyline points="268.2,158.6 298.9,195.1 329.6,221 360.3,239.6 391.1,274.4 421.8,303.6 452.5,310.1 483.2,319.8 513.9,340.9 544.6,368.4 575.3,395.1 606,397.5 636.7,412.9 667.4,457.5 698.2,470.4 728.9,472.1 759.6,505.3 790.3,543.3 821,543.3 851.7,564.4 882.4,606.5 913.1,616.2 943.8,628.4 974.5,670.5 1005.2,689.1 1036,698.9 1066.7,738.6 1097.4,762.9 1128.1,771 1158.8,813.1 1189.5,834.1 1220.2,845.5 1250.9,891.6 1281.6,907 1312.4,922.4 1343.1,974.3 1373.8,978.3 1404.5,1007.5 1435.2,1053.7 1465.9,1052.8 1496.6,1099.8 1527.3,1124.9 1558,1133.8 1588.7,1189.7 1619.5,1193.8 1650.2,1201.1 1680.9,1226.2 1711.6,1230.2 1742.3,1234.3 1773,1228.6"/>
<path d="M268.2 145.6V171.6M255.2 158.6H281.2M259 149.4L277.4 167.8M259 167.8L277.4 149.4"/><path d="M298.9 182.1V208.1M285.9 195.1H311.9M289.7 185.9L308.1 204.2M289.7 204.2L308.1 185.9"/><path d="M329.6 208V234M316.6 221H342.6M320.4 211.8L338.8 230.2M320.4 230.2L338.8 211.8"/><path d="M360.3 226.6V252.6M347.3 239.6H373.3M351.1 230.4L369.5 248.8M351.1 248.8L369.5 230.4"/><path d="M391.1 261.4V287.4M378.1 274.4H404.1M381.9 265.2L400.2 283.6M381.9 283.6L400.2 265.2"/><path d="M421.8 290.6V316.6M408.8 303.6H434.8M412.6 294.4L431 312.8M412.6 312.8L431 294.4"/><path d="M452.5 297.1V323.1M439.5 310.1H465.5M443.3 300.9L461.7 319.3M443.3 319.3L461.7 300.9"/><path d="M483.2 306.8V332.8M470.2 319.8H496.2M474 310.6L492.4 329M474 329L492.4 310.6"/><path d="M513.9 327.9V353.9M500.9 340.9H526.9M504.7 331.7L523.1 350M504.7 350L523.1 331.7"/><path d="M544.6 355.4V381.4M531.6 368.4H557.6M535.4 359.2L553.8 377.6M535.4 377.6L553.8 359.2"/><path d="M575.3 382.1V408.1M562.3 395.1H588.3M566.1 385.9L584.5 404.3M566.1 404.3L584.5 385.9"/><path d="M606 384.5V410.5M593 397.5H619M596.8 388.4L615.2 406.7M596.8 406.7L615.2 388.4"/><path d="M636.7 399.9V425.9M623.7 412.9H649.7M627.5 403.7L645.9 422.1M627.5 422.1L645.9 403.7"/><path d="M667.4 444.5V470.5M654.4 457.5H680.4M658.2 448.3L676.6 466.7M658.2 466.7L676.6 448.3"/><path d="M698.2 457.4V483.4M685.2 470.4H711.2M689 461.3L707.3 479.6M689 479.6L707.3 461.3"/><path d="M728.9 459.1V485.1M715.9 472.1H741.9M719.7 462.9L738.1 481.3M719.7 481.3L738.1 462.9"/><path d="M759.6 492.3V518.3M746.6 505.3H772.6M750.4 496.1L768.8 514.5M750.4 514.5L768.8 496.1"/><path d="M790.3 530.3V556.3M777.3 543.3H803.3M781.1 534.2L799.5 552.5M781.1 552.5L799.5 534.2"/><path d="M821 530.3V556.3M808 543.3H834M811.8 534.2L830.2 552.5M811.8 552.5L830.2 534.2"/><path d="M851.7 551.4V577.4M838.7 564.4H864.7M842.5 555.2L860.9 573.6M842.5 573.6L860.9 555.2"/><path d="M882.4 593.5V619.5M869.4 606.5H895.4M873.2 597.3L891.6 615.7M873.2 615.7L891.6 597.3"/><path d="M913.1 603.2V629.2M900.1 616.2H926.1M903.9 607.1L922.3 625.4M903.9 625.4L922.3 607.1"/><path d="M943.8 615.4V641.4M930.8 628.4H956.8M934.6 619.2L953 637.6M934.6 637.6L953 619.2"/><path d="M974.5 657.5V683.5M961.5 670.5H987.5M965.3 661.3L983.7 679.7M965.3 679.7L983.7 661.3"/><path d="M1005.2 676.1V702.1M992.2 689.1H1018.2M996.1 680L1014.4 698.3M996.1 698.3L1014.4 680"/><path d="M1036 685.9V711.9M1023 698.9H1049M1026.8 689.7L1045.2 708.1M1026.8 708.1L1045.2 689.7"/><path d="M1066.7 725.6V751.6M1053.7 738.6H1079.7M1057.5 729.4L1075.9 747.8M1057.5 747.8L1075.9 729.4"/><path d="M1097.4 749.9V775.9M1084.4 762.9H1110.4M1088.2 753.7L1106.6 772.1M1088.2 772.1L1106.6 753.7"/><path d="M1128.1 758V784M1115.1 771H1141.1M1118.9 761.8L1137.3 780.2M1118.9 780.2L1137.3 761.8"/><path d="M1158.8 800.1V826.1M1145.8 813.1H1171.8M1149.6 803.9L1168 822.3M1149.6 822.3L1168 803.9"/><path d="M1189.5 821.1V847.1M1176.5 834.1H1202.5M1180.3 824.9L1198.7 843.3M1180.3 843.3L1198.7 824.9"/><path d="M1220.2 832.5V858.5M1207.2 845.5H1233.2M1211 836.3L1229.4 854.7M1211 854.7L1229.4 836.3"/><path d="M1250.9 878.6V904.6M1237.9 891.6H1263.9M1241.7 882.5L1260.1 900.8M1241.7 900.8L1260.1 882.5"/><path d="M1281.6 894V920M1268.6 907H1294.6M1272.4 897.8L1290.8 916.2M1272.4 916.2L1290.8 897.8"/><path d="M1312.4 909.4V935.4M1299.4 922.4H1325.4M1303.2 913.2L1321.5 931.6M1303.2 931.6L1321.5 913.2"/><path d="M1343.1 961.3V987.3M1330.1 974.3H1356.1M1333.9 965.1L1352.3 983.5M1333.9 983.5L1352.3 965.1"/><path d="M1373.8 965.3V991.3M1360.8 978.3H1386.8M1364.6 969.1L1383 987.5M1364.6 987.5L1383 969.1"/><path d="M1404.5 994.5V1020.5M1391.5 1007.5H1417.5M1395.3 998.3L1413.7 1016.7M1395.3 1016.7L1413.7 998.3"/><path d="M1435.2 1040.7V1066.7M1422.2 1053.7H1448.2M1426 1044.5L1444.4 1062.8M1426 1062.8L1444.4 1044.5"/><path d="M1465.9 1039.8V1065.8M1452.9 1052.8H1478.9M1456.7 1043.6L1475.1 1062M1456.7 1062L1475.1 1043.6"/><path d="M1496.6 1086.8V1112.8M1483.6 1099.8H1509.6M1487.4 1090.6L1505.8 1109M1487.4 1109L1505.8 1090.6"/><path d="M1527.3 1111.9V1137.9M1514.3 1124.9H1540.3M1518.1 1115.7L1536.5 1134.1M1518.1 1134.1L1536.5 1115.7"/><path d="M1558 1120.8V1146.8M1545 1133.8H1571M1548.8 1124.6L1567.2 1143M1548.8 1143L1567.2 1124.6"/><path d="M1588.7 1176.7V1202.7M1575.7 1189.7H1601.7M1579.5 1180.5L1597.9 1198.9M1579.5 1198.9L1597.9 1180.5"/><path d="M1619.5 1180.8V1206.8M1606.5 1193.8H1632.5M1610.3 1184.6L1628.6 1203M1610.3 1203L1628.6 1184.6"/><path d="M1650.2 1188.1V1214.1M1637.2 1201.1H1663.2M1641 1191.9L1659.4 1210.3M1641 1210.3L1659.4 1191.9"/><path d="M1680.9 1213.2V1239.2M1667.9 1226.2H1693.9M1671.7 1217L1690.1 1235.4M1671.7 1235.4L1690.1 1217"/><path d="M1711.6 1217.2V1243.2M1698.6 1230.2H1724.6M1702.4 1221L1720.8 1239.4M1702.4 1239.4L1720.8 1221"/><path d="M1742.3 1221.3V1247.3M1729.3 1234.3H1755.3M1733.1 1225.1L1751.5 1243.5M1733.1 1243.5L1751.5 1225.1"/><path d="M1773 1215.6V1241.6M1760 1228.6H1786M1763.8 1219.4L1782.2 1237.8M1763.8 1237.8L1782.2 1219.4"/>
</g>
<g stroke="#FF8C00" fill="none" stroke-width="2.5">
<polyline points="268.2,174.8 298.9,195.1 329.6,214.5 360.3,228.3 391.1,255 421.8,280.9 452.5,303.6 483.2,354.6 513.9,389.5 544.6,386.2 575.3,405.6 606,442.1 636.7,480.2 667.4,484.2 698.2,502.8 728.9,533.6 759.6,572.5 790.3,575.8 821,597.6 851.7,651.1 882.4,655.1 913.1,666.5 943.8,717.5 974.5,737.8 1005.2,741.8 1036,788 1066.7,814.7 1097.4,818.8 1128.1,864.9 1158.8,891.6 1189.5,897.3 1220.2,947.5 1250.9,968.6 1281.6,978.3 1312.4,1035.8 1343.1,1045.6 1373.8,1060.9 1404.5,1122.5 1435.2,1123.3 1465.9,1151.7 1496.6,1195.4 1527.3,1195.4 1558,1247.2 1588.7,1235.9 1619.5,1235.9 1650.2,1234.3 1680.9,1257 1711.6,1261 1742.3,1252.9 1773,1247.2" stroke-dasharray="22.5 13.8"/>
<circle cx="268.2" cy="174.8" r="14.1"/><circle cx="298.9" cy="195.1" r="14.1"/><circle cx="329.6" cy="214.5" r="14.1"/><circle cx="360.3" cy="228.3" r="14.1"/><circle cx="391.1" cy="255" r="14.1"/><circle cx="421.8" cy="280.9" r="14.1"/><circle cx="452.5" cy="303.6" r="14.1"/><circle cx="483.2" cy="354.6" r="14.1"/><circle cx="513.9" cy="389.5" r="14.1"/><circle cx="544.6" cy="386.2" r="14.1"/><circle cx="575.3" cy="405.6" r="14.1"/><circle cx="606" cy="442.1" r="14.1"/><circle cx="636.7" cy="480.2" r="14.1"/><circle cx="667.4" cy="484.2" r="14.1"/><circle cx="698.2" cy="502.8" r="14.1"/><circle cx="728.9" cy="533.6" r="14.1"/><circle cx="759.6" cy="572.5" r="14.1"/><circle cx="790.3" cy="575.8" r="14.1"/><circle cx="821" cy="597.6" r="14.1"/><circle cx="851.7" cy="651.1" r="14.1"/><circle cx="882.4" cy="655.1" r="14.1"/><circle cx="913.1" cy="666.5" r="14.1"/><circle cx="943.8" cy="717.5" r="14.1"/><circle cx="974.5" cy="737.8" r="14.1"/><circle cx="1005.2" cy="741.8" r="14.1"/><circle cx="1036" cy="788" r="14.1"/><circle cx="1066.7" cy="814.7" r="14.1"/><circle cx="1097.4" cy="818.8" r="14.1"/><circle cx="1128.1" cy="864.9" r="14.1"/><circle cx="1158.8" cy="891.6" r="14.1"/><circle cx="1189.5" cy="897.3" r="14.1"/><circle cx="1220.2" cy="947.5" r="14.1"/><circle cx="1250.9" cy="968.6" r="14.1"/><circle cx="1281.6" cy="978.3" r="14.1"/><circle cx="1312.4" cy="1035.8" r="14.1"/><circle cx="1343.1" cy="1045.6" r="14.1"/><circle cx="1373.8" cy="1060.9" r="14.1"/><circle cx="1404.5" cy="1122.5" r="14.1"/><circle cx="1435.2" cy="1123.3" r="14.1"/><circle cx="1465.9" cy="1151.7" r="14.1"/><circle cx="1496.6" cy="1195.4" r="14.1"/><circle cx="1527.3" cy="1195.4" r="14.1"/><circle cx="1558" cy="1247.2" r="14.1"/><circle cx="1588.7" cy="1235.9" r="14.1"/><circle cx="1619.5" cy="1235.9" r="14.1"/><circle cx="1650.2" cy="1234.3" r="14.1"/><circle cx="1680.9" cy="1257" r="14.1"/><circle cx="1711.6" cy="1261" r="14.1"/><circle cx="1742.3" cy="1252.9" r="14.1"/><circle cx="1773" cy="1247.2" r="14.1"/>
</g>
<g stroke="#FF8C00" fill="none" stroke-width="2.5">
<polyline points="268.2,208 298.9,221 329.6,235.6 360.3,247.7 391.1,272 421.8,292.2 452.5,307.6 483.2,338.4 513.9,372.4 544.6,407.3 575.3,473.7 606,473.7 636.7,483.4 667.4,522.3 698.2,575.8 728.9,582.2 759.6,597.6 790.3,637.3 821,679.4 851.7,681.9 882.4,710.2 913.1,751.5 943.8,768.5 974.5,789.6 1005.2,828.5 1036,855.2 1066.7,870.6 1097.4,908.7 1128.1,939.4 1158.8,953.2 1189.5,993.7 1220.2,1020.4 1250.9,1037.4 1281.6,1082 1312.4,1103.1 1343.1,1126.6 1373.8,1176 1404.5,1184.1 1435.2,1218.9 1465.9,1265.1 1496.6,1268.3 1527.3,1247.2 1558,1312.8 1588.7,1278 1619.5,1274 1650.2,1272.3 1680.9,1295 1711.6,1299.1 1742.3,1287.7 1773,1283.7" stroke-dasharray="19 8.3 2.5 8.3"/>
<rect x="256.4" y="196.2" width="23.6" height="23.6"/><rect x="287.1" y="209.2" width="23.6" height="23.6"/><rect x="317.8" y="223.8" width="23.6" height="23.6"/><rect x="348.5" y="235.9" width="23.6" height="23.6"/><rect x="379.2" y="260.2" width="23.6" height="23.6"/><rect x="410" y="280.4" width="23.6" height="23.6"/><rect x="440.7" y="295.8" width="23.6" height="23.6"/><rect x="471.4" y="326.6" width="23.6" height="23.6"/><rect x="502.1" y="360.6" width="23.6" height="23.6"/><rect x="532.8" y="395.5" width="23.6" height="23.6"/><rect x="563.5" y="461.9" width="23.6" height="23.6"/><rect x="594.2" y="461.9" width="23.6" height="23.6"/><rect x="624.9" y="471.6" width="23.6" height="23.6"/><rect x="655.6" y="510.5" width="23.6" height="23.6"/><rect x="686.4" y="564" width="23.6" height="23.6"/><rect x="717.1" y="570.4" width="23.6" height="23.6"/><rect x="747.8" y="585.8" width="23.6" height="23.6"/><rect x="778.5" y="625.5" width="23.6" height="23.6"/><rect x="809.2" y="667.6" width="23.6" height="23.6"/><rect x="839.9" y="670.1" width="23.6" height="23.6"/><rect x="870.6" y="698.4" width="23.6" height="23.6"/><rect x="901.3" y="739.7" width="23.6" height="23.6"/><rect x="932" y="756.7" width="23.6" height="23.6"/><rect x="962.7" y="777.8" width="23.6" height="23.6"/><rect x="993.5" y="816.7" width="23.6" height="23.6"/><rect x="1024.2" y="843.4" width="23.6" height="23.6"/><rect x="1054.9" y="858.8" width="23.6" height="23.6"/><rect x="1085.6" y="896.9" width="23.6" height="23.6"/><rect x="1116.3" y="927.6" width="23.6" height="23.6"/><rect x="1147" y="941.4" width="23.6" height="23.6"/><rect x="1177.7" y="981.9" width="23.6" height="23.6"/><rect x="1208.4" y="1008.6" width="23.6" height="23.6"/><rect x="1239.1" y="1025.6" width="23.6" height="23.6"/><rect x="1269.8" y="1070.2" width="23.6" height="23.6"/><rect x="1300.6" y="1091.3" width="23.6" height="23.6"/><rect x="1331.3" y="1114.8" width="23.6" height="23.6"/><rect x="1362" y="1164.2" width="23.6" height="23.6"/><rect x="1392.7" y="1172.3" width="23.6" height="23.6"/><rect x="1423.4" y="1207.1" width="23.6" height="23.6"/><rect x="1454.1" y="1253.3" width="23.6" height="23.6"/><rect x="1484.8" y="1256.5" width="23.6" height="23.6"/><rect x="1515.5" y="1235.4" width="23.6" height="23.6"/><rect x="1546.2" y="1301" width="23.6" height="23.6"/><rect x="1576.9" y="1266.2" width="23.6" height="23.6"/><rect x="1607.7" y="1262.2" width="23.6" height="23.6"/><rect x="1638.4" y="1260.5" width="23.6" height="23.6"/><rect x="1669.1" y="1283.2" width="23.6" height="23.6"/><rect x="1699.8" y="1287.3" width="23.6" height="23.6"/><rect x="1730.5" y="1275.9" width="23.6" height="23.6"/><rect x="1761.2" y="1271.9" width="23.6" height="23.6"/>
</g>
<g stroke="#FF8C00" fill="none" stroke-width="2.5">
<polyline points="268.2,254.2 298.9,260.7 329.6,276.1 360.3,285.8 391.1,305.2 421.8,324.6 452.5,337.6 483.2,365.1 513.9,387 544.6,409.7 575.3,451 606,493.1 636.7,549 667.4,564.4 698.2,583.8 728.9,614.6 759.6,679.4 790.3,689.1 821,694.8 851.7,745 882.4,796.1 913.1,796.1 943.8,826 974.5,883.6 1005.2,887.6 1036,911.9 1066.7,966.2 1097.4,979.9 1128.1,999.4 1158.8,1052.8 1189.5,1068.2 1220.2,1089.3 1250.9,1145.2 1281.6,1154.9 1312.4,1180 1343.1,1240 1373.8,1238.3 1404.5,1276.4 1435.2,1325.8 1465.9,1325.8 1496.6,1360.6 1527.3,1299.1 1558,1360.6 1588.7,1322.6 1619.5,1329.9 1650.2,1320.1 1680.9,1338 1711.6,1343.6 1742.3,1338 1773,1333.9" stroke-dasharray="2.5 6.9"/>
<polygon points="249.5,254.2 277.6,238 277.6,270.4"/><polygon points="280.2,260.7 308.3,244.5 308.3,276.9"/><polygon points="310.9,276.1 339,259.9 339,292.2"/><polygon points="341.6,285.8 369.7,269.6 369.7,302"/><polygon points="372.4,305.2 400.4,289 400.4,321.4"/><polygon points="403.1,324.6 431.1,308.5 431.1,340.8"/><polygon points="433.8,337.6 461.8,321.4 461.8,353.8"/><polygon points="464.5,365.1 492.5,349 492.5,381.3"/><polygon points="495.2,387 523.2,370.8 523.2,403.2"/><polygon points="525.9,409.7 554,393.5 554,425.9"/><polygon points="556.6,451 584.7,434.8 584.7,467.2"/><polygon points="587.3,493.1 615.4,476.9 615.4,509.3"/><polygon points="618,549 646.1,532.8 646.1,565.2"/><polygon points="648.7,564.4 676.8,548.2 676.8,580.6"/><polygon points="679.5,583.8 707.5,567.7 707.5,600"/><polygon points="710.2,614.6 738.2,598.4 738.2,630.8"/><polygon points="740.9,679.4 768.9,663.2 768.9,695.6"/><polygon points="771.6,689.1 799.6,673 799.6,705.3"/><polygon points="802.3,694.8 830.3,678.6 830.3,711"/><polygon points="833,745 861.1,728.8 861.1,761.2"/><polygon points="863.7,796.1 891.8,779.9 891.8,812.3"/><polygon points="894.4,796.1 922.5,779.9 922.5,812.3"/><polygon points="925.1,826 953.2,809.8 953.2,842.2"/><polygon points="955.8,883.6 983.9,867.4 983.9,899.7"/><polygon points="986.5,887.6 1014.6,871.4 1014.6,903.8"/><polygon points="1017.3,911.9 1045.3,895.7 1045.3,928.1"/><polygon points="1048,966.2 1076,950 1076,982.4"/><polygon points="1078.7,979.9 1106.7,963.7 1106.7,996.1"/><polygon points="1109.4,999.4 1137.4,983.2 1137.4,1015.6"/><polygon points="1140.1,1052.8 1168.2,1036.6 1168.2,1069"/><polygon points="1170.8,1068.2 1198.9,1052 1198.9,1084.4"/><polygon points="1201.5,1089.3 1229.6,1073.1 1229.6,1105.5"/><polygon points="1232.2,1145.2 1260.3,1129 1260.3,1161.4"/><polygon points="1262.9,1154.9 1291,1138.7 1291,1171.1"/><polygon points="1293.7,1180 1321.7,1163.8 1321.7,1196.2"/><polygon points="1324.4,1240 1352.4,1223.8 1352.4,1256.1"/><polygon points="1355.1,1238.3 1383.1,1222.1 1383.1,1254.5"/><polygon points="1385.8,1276.4 1413.8,1260.2 1413.8,1292.6"/><polygon points="1416.5,1325.8 1444.5,1309.6 1444.5,1342"/><polygon points="1447.2,1325.8 1475.2,1309.6 1475.2,1342"/><polygon points="1477.9,1360.6 1506,1344.4 1506,1376.8"/><polygon points="1508.6,1299.1 1536.7,1282.9 1536.7,1315.3"/><polygon points="1539.3,1360.6 1567.4,1344.4 1567.4,1376.8"/><polygon points="1570,1322.6 1598.1,1306.4 1598.1,1338.8"/><polygon points="1600.8,1329.9 1628.8,1313.7 1628.8,1346.1"/><polygon points="1631.5,1320.1 1659.5,1303.9 1659.5,1336.3"/><polygon points="1662.2,1338 1690.2,1321.8 1690.2,1354.2"/><polygon points="1692.9,1343.6 1720.9,1327.4 1720.9,1359.8"/><polygon points="1723.6,1338 1751.6,1321.8 1751.6,1354.2"/><polygon points="1754.3,1333.9 1782.3,1317.7 1782.3,1350.1"/>
</g>
<g stroke="#262626" stroke-width="2.9" fill="none">
<rect x="237.8" y="1706.8" width="1600.9" height="1263.6"/>
<path d="M237.8 1706.8H255.1M1838.7 1706.8H1821.4M237.8 1770H247.1M1838.7 1770H1829.4M237.8 1833.2H247.1M1838.7 1833.2H1829.4M237.8 1896.3H247.1M1838.7 1896.3H1829.4M237.8 1959.5H247.1M1838.7 1959.5H1829.4M237.8 2022.7H255.1M1838.7 2022.7H1821.4M237.8 2085.9H247.1M1838.7 2085.9H1829.4M237.8 2149.1H247.1M1838.7 2149.1H1829.4M237.8 2212.2H247.1M1838.7 2212.2H1829.4M237.8 2275.4H247.1M1838.7 2275.4H1829.4M237.8 2338.6H255.1M1838.7 2338.6H1821.4M237.8 2401.8H247.1M1838.7 2401.8H1829.4M237.8 2465H247.1M1838.7 2465H1829.4M237.8 2528.1H247.1M1838.7 2528.1H1829.4M237.8 2591.3H247.1M1838.7 2591.3H1829.4M237.8 2654.5H255.1M1838.7 2654.5H1821.4M237.8 2717.7H247.1M1838.7 2717.7H1829.4M237.8 2780.9H247.1M1838.7 2780.9H1829.4M237.8 2844H247.1M1838.7 2844H1829.4M237.8 2907.2H247.1M1838.7 2907.2H1829.4M237.8 2970.4H255.1M1838.7 2970.4H1821.4M237.8 2970.4V2953.1M237.8 1706.8V1724.1M558 2970.4V2953.1M558 1706.8V1724.1M878.2 2970.4V2953.1M878.2 1706.8V1724.1M1198.4 2970.4V2953.1M1198.4 1706.8V1724.1M1518.6 2970.4V2953.1M1518.6 1706.8V1724.1M1838.8 2970.4V2953.1M1838.8 1706.8V1724.1"/>
</g>
<g fill="#262626" font-family="'Liberation Sans', Arial, Helvetica, sans-serif">
<text x="216.8" y="1734.3" text-anchor="end" font-size="50">10<tspan font-size="39.5" dy="-25.5">5</tspan></text>
<text x="216.8" y="2050.2" text-anchor="end" font-size="50">10<tspan font-size="39.5" dy="-25.5">0</tspan></text>
<text x="216.8" y="2366.1" text-anchor="end" font-size="50">10<tspan font-size="39.5" dy="-25.5">-5</tspan></text>
<text x="216.8" y="2682" text-anchor="end" font-size="50">10<tspan font-size="39.5" dy="-25.5">-10</tspan></text>
<text x="216.8" y="2997.9" text-anchor="end" font-size="50">10<tspan font-size="39.5" dy="-25.5">-15</tspan></text>
<text x="237.8" y="3041.9" text-anchor="middle" font-size="50">0</text>
<text x="558" y="3041.9" text-anchor="middle" font-size="50">10</text>
<text x="878.2" y="3041.9" text-anchor="middle" font-size="50">20</text>
<text x="1198.4" y="3041.9" text-anchor="middle" font-size="50">30</text>
<text x="1518.6" y="3041.9" text-anchor="middle" font-size="50">40</text>
<text x="1838.8" y="3041.9" text-anchor="middle" font-size="50">50</text>
</g>
<g stroke="#000000" fill="none" stroke-width="2.7">
<polyline points="269.8,1970.3 301.8,1998.7 333.9,2072 365.9,2169.9 397.9,2165.5 429.9,2246.4 461.9,2319 494,2427.1 526,2481.4 558,2537.6 590,2604.6 622,2702.5 654.1,2754.3 686.1,2704.4 718.1,2720.2 750.1,2724 782.1,2750.5 814.2,2787.2 846.2,2679.8 878.2,2735.4 910.2,2698.7 942.2,2689.2 974.3,2722.1 1006.3,2694.9 1038.3,2683.6 1070.3,2756.2 1102.3,2720.2 1134.4,2683.6 1166.4,2754.3 1198.4,2726.5 1230.4,2729.1 1262.4,2784.7 1294.5,2696.2 1326.5,2692.4 1358.5,2744.2 1390.5,2677.2 1422.5,2681 1454.6,2724 1486.6,2773.3 1518.6,2759.4 1550.6,2741.1 1582.6,2683.6 1614.7,2716.4 1646.7,2677.9 1678.7,2646.9 1710.7,2668.4 1742.7,2777.7 1774.8,2724 1806.8,2666.5 1838.8,2662.7" stroke-dasharray="23.5 14.4"/>
<circle cx="269.8" cy="1970.3" r="14.7"/><circle cx="301.8" cy="1998.7" r="14.7"/><circle cx="333.9" cy="2072" r="14.7"/><circle cx="365.9" cy="2169.9" r="14.7"/><circle cx="397.9" cy="2165.5" r="14.7"/><circle cx="429.9" cy="2246.4" r="14.7"/><circle cx="461.9" cy="2319" r="14.7"/><circle cx="494" cy="2427.1" r="14.7"/><circle cx="526" cy="2481.4" r="14.7"/><circle cx="558" cy="2537.6" r="14.7"/><circle cx="590" cy="2604.6" r="14.7"/><circle cx="622" cy="2702.5" r="14.7"/><circle cx="654.1" cy="2754.3" r="14.7"/><circle cx="686.1" cy="2704.4" r="14.7"/><circle cx="718.1" cy="2720.2" r="14.7"/><circle cx="750.1" cy="2724" r="14.7"/><circle cx="782.1" cy="2750.5" r="14.7"/><circle cx="814.2" cy="2787.2" r="14.7"/><circle cx="846.2" cy="2679.8" r="14.7"/><circle cx="878.2" cy="2735.4" r="14.7"/><circle cx="910.2" cy="2698.7" r="14.7"/><circle cx="942.2" cy="2689.2" r="14.7"/><circle cx="974.3" cy="2722.1" r="14.7"/><circle cx="1006.3" cy="2694.9" r="14.7"/><circle cx="1038.3" cy="2683.6" r="14.7"/><circle cx="1070.3" cy="2756.2" r="14.7"/><circle cx="1102.3" cy="2720.2" r="14.7"/><circle cx="1134.4" cy="2683.6" r="14.7"/><circle cx="1166.4" cy="2754.3" r="14.7"/><circle cx="1198.4" cy="2726.5" r="14.7"/><circle cx="1230.4" cy="2729.1" r="14.7"/><circle cx="1262.4" cy="2784.7" r="14.7"/><circle cx="1294.5" cy="2696.2" r="14.7"/><circle cx="1326.5" cy="2692.4" r="14.7"/><circle cx="1358.5" cy="2744.2" r="14.7"/><circle cx="1390.5" cy="2677.2" r="14.7"/><circle cx="1422.5" cy="2681" r="14.7"/><circle cx="1454.6" cy="2724" r="14.7"/><circle cx="1486.6" cy="2773.3" r="14.7"/><circle cx="1518.6" cy="2759.4" r="14.7"/><circle cx="1550.6" cy="2741.1" r="14.7"/><circle cx="1582.6" cy="2683.6" r="14.7"/><circle cx="1614.7" cy="2716.4" r="14.7"/><circle cx="1646.7" cy="2677.9" r="14.7"/><circle cx="1678.7" cy="2646.9" r="14.7"/><circle cx="1710.7" cy="2668.4" r="14.7"/><circle cx="1742.7" cy="2777.7" r="14.7"/><circle cx="1774.8" cy="2724" r="14.7"/><circle cx="1806.8" cy="2666.5" r="14.7"/><circle cx="1838.8" cy="2662.7" r="14.7"/>
</g>
<g stroke="#000000" fill="none" stroke-width="2.7">
<polyline points="269.8,1981.6 301.8,1981.6 333.9,2079.6 365.9,2139 397.9,2217.3 429.9,2288.7 461.9,2352.5 494,2430.2 526,2576.2 558,2606.5 590,2666.5 622,2756.2 654.1,2772 686.1,2727.8 718.1,2735.4 750.1,2741.1 782.1,2761.9 814.2,2791 846.2,2702.5 878.2,2750.5 910.2,2722.1 942.2,2708.2 974.3,2750.5 1006.3,2712.6 1038.3,2702.5 1070.3,2756.2 1102.3,2752.4 1134.4,2708.2 1166.4,2781.5 1198.4,2753.1 1230.4,2757.5 1262.4,2782.8 1294.5,2711.4 1326.5,2709.5 1358.5,2773.3 1390.5,2707.6 1422.5,2711.4 1454.6,2745.5 1486.6,2797.9 1518.6,2765.1 1550.6,2745.5 1582.6,2708.2 1614.7,2741.1 1646.7,2702.5 1678.7,2666.5 1710.7,2687.4 1742.7,2792.9 1774.8,2739.2 1806.8,2687.4 1838.8,2677.9" stroke-dasharray="19.8 8.7 2.6 8.7"/>
<rect x="257.5" y="1969.3" width="24.6" height="24.6"/><rect x="289.5" y="1969.3" width="24.6" height="24.6"/><rect x="321.6" y="2067.3" width="24.6" height="24.6"/><rect x="353.6" y="2126.6" width="24.6" height="24.6"/><rect x="385.6" y="2205" width="24.6" height="24.6"/><rect x="417.6" y="2276.4" width="24.6" height="24.6"/><rect x="449.6" y="2340.2" width="24.6" height="24.6"/><rect x="481.7" y="2417.9" width="24.6" height="24.6"/><rect x="513.7" y="2563.9" width="24.6" height="24.6"/><rect x="545.7" y="2594.2" width="24.6" height="24.6"/><rect x="577.7" y="2654.2" width="24.6" height="24.6"/><rect x="609.7" y="2743.9" width="24.6" height="24.6"/><rect x="641.8" y="2759.7" width="24.6" height="24.6"/><rect x="673.8" y="2715.5" width="24.6" height="24.6"/><rect x="705.8" y="2723.1" width="24.6" height="24.6"/><rect x="737.8" y="2728.8" width="24.6" height="24.6"/><rect x="769.8" y="2749.6" width="24.6" height="24.6"/><rect x="801.9" y="2778.7" width="24.6" height="24.6"/><rect x="833.9" y="2690.2" width="24.6" height="24.6"/><rect x="865.9" y="2738.2" width="24.6" height="24.6"/><rect x="897.9" y="2709.8" width="24.6" height="24.6"/><rect x="929.9" y="2695.9" width="24.6" height="24.6"/><rect x="962" y="2738.2" width="24.6" height="24.6"/><rect x="994" y="2700.3" width="24.6" height="24.6"/><rect x="1026" y="2690.2" width="24.6" height="24.6"/><rect x="1058" y="2743.9" width="24.6" height="24.6"/><rect x="1090" y="2740.1" width="24.6" height="24.6"/><rect x="1122.1" y="2695.9" width="24.6" height="24.6"/><rect x="1154.1" y="2769.2" width="24.6" height="24.6"/><rect x="1186.1" y="2740.8" width="24.6" height="24.6"/><rect x="1218.1" y="2745.2" width="24.6" height="24.6"/><rect x="1250.1" y="2770.5" width="24.6" height="24.6"/><rect x="1282.2" y="2699.1" width="24.6" height="24.6"/><rect x="1314.2" y="2697.2" width="24.6" height="24.6"/><rect x="1346.2" y="2761" width="24.6" height="24.6"/><rect x="1378.2" y="2695.3" width="24.6" height="24.6"/><rect x="1410.2" y="2699.1" width="24.6" height="24.6"/><rect x="1442.3" y="2733.2" width="24.6" height="24.6"/><rect x="1474.3" y="2785.6" width="24.6" height="24.6"/><rect x="1506.3" y="2752.8" width="24.6" height="24.6"/><rect x="1538.3" y="2733.2" width="24.6" height="24.6"/><rect x="1570.3" y="2695.9" width="24.6" height="24.6"/><rect x="1602.4" y="2728.8" width="24.6" height="24.6"/><rect x="1634.4" y="2690.2" width="24.6" height="24.6"/><rect x="1666.4" y="2654.2" width="24.6" height="24.6"/><rect x="1698.4" y="2675.1" width="24.6" height="24.6"/><rect x="1730.4" y="2780.6" width="24.6" height="24.6"/><rect x="1762.5" y="2726.9" width="24.6" height="24.6"/><rect x="1794.5" y="2675.1" width="24.6" height="24.6"/><rect x="1826.5" y="2665.6" width="24.6" height="24.6"/>
</g>
<g stroke="#000000" fill="none" stroke-width="2.7">
<polyline points="269.8,2000.6 301.8,1989.2 333.9,2070.1 365.9,2142.7 397.9,2219.8 429.9,2359.4 461.9,2391.7 494,2461.2 526,2572.4 558,2729.7 590,2727.8 622,2802.3 654.1,2802.3 686.1,2760 718.1,2766.3 750.1,2772 782.1,2785.3 814.2,2821.9 846.2,2735.4 878.2,2781.5 910.2,2752.4 942.2,2739.2 974.3,2783.4 1006.3,2749.3 1038.3,2736.6 1070.3,2777.7 1102.3,2787.2 1134.4,2743 1166.4,2816.2 1198.4,2787.2 1230.4,2790.3 1262.4,2803.6 1294.5,2755.6 1326.5,2748 1358.5,2805.5 1390.5,2734.7 1422.5,2738.5 1454.6,2780.2 1486.6,2825.1 1518.6,2793.5 1550.6,2774.5 1582.6,2743 1614.7,2773.9 1646.7,2739.2 1678.7,2704.4 1710.7,2720.2 1742.7,2821.9 1774.8,2750.5 1806.8,2724 1838.8,2716.4" stroke-dasharray="2.6 7.2"/>
<polygon points="250.3,2000.6 279.6,1983.7 279.6,2017.5"/><polygon points="282.3,1989.2 311.6,1972.3 311.6,2006.1"/><polygon points="314.4,2070.1 343.6,2053.2 343.6,2087"/><polygon points="346.4,2142.7 375.6,2125.9 375.6,2159.6"/><polygon points="378.4,2219.8 407.6,2202.9 407.6,2236.7"/><polygon points="410.4,2359.4 439.7,2342.6 439.7,2376.3"/><polygon points="442.4,2391.7 471.7,2374.8 471.7,2408.6"/><polygon points="474.5,2461.2 503.7,2444.3 503.7,2478.1"/><polygon points="506.5,2572.4 535.7,2555.5 535.7,2589.3"/><polygon points="538.5,2729.7 567.7,2712.8 567.7,2746.6"/><polygon points="570.5,2727.8 599.8,2710.9 599.8,2744.7"/><polygon points="602.5,2802.3 631.8,2785.5 631.8,2819.2"/><polygon points="634.6,2802.3 663.8,2785.5 663.8,2819.2"/><polygon points="666.6,2760 695.8,2743.1 695.8,2776.9"/><polygon points="698.6,2766.3 727.8,2749.4 727.8,2783.2"/><polygon points="730.6,2772 759.9,2755.1 759.9,2788.9"/><polygon points="762.6,2785.3 791.9,2768.4 791.9,2802.2"/><polygon points="794.7,2821.9 823.9,2805 823.9,2838.8"/><polygon points="826.7,2735.4 855.9,2718.5 855.9,2752.3"/><polygon points="858.7,2781.5 887.9,2764.6 887.9,2798.4"/><polygon points="890.7,2752.4 920,2735.5 920,2769.3"/><polygon points="922.7,2739.2 952,2722.3 952,2756"/><polygon points="954.8,2783.4 984,2766.5 984,2800.3"/><polygon points="986.8,2749.3 1016,2732.4 1016,2766.2"/><polygon points="1018.8,2736.6 1048,2719.7 1048,2753.5"/><polygon points="1050.8,2777.7 1080.1,2760.8 1080.1,2794.6"/><polygon points="1082.8,2787.2 1112.1,2770.3 1112.1,2804.1"/><polygon points="1114.9,2743 1144.1,2726.1 1144.1,2759.8"/><polygon points="1146.9,2816.2 1176.1,2799.4 1176.1,2833.1"/><polygon points="1178.9,2787.2 1208.1,2770.3 1208.1,2804.1"/><polygon points="1210.9,2790.3 1240.2,2773.5 1240.2,2807.2"/><polygon points="1242.9,2803.6 1272.2,2786.7 1272.2,2820.5"/><polygon points="1275,2755.6 1304.2,2738.7 1304.2,2772.5"/><polygon points="1307,2748 1336.2,2731.1 1336.2,2764.9"/><polygon points="1339,2805.5 1368.2,2788.6 1368.2,2822.4"/><polygon points="1371,2734.7 1400.3,2717.9 1400.3,2751.6"/><polygon points="1403,2738.5 1432.3,2721.6 1432.3,2755.4"/><polygon points="1435.1,2780.2 1464.3,2763.3 1464.3,2797.1"/><polygon points="1467.1,2825.1 1496.3,2808.2 1496.3,2842"/><polygon points="1499.1,2793.5 1528.3,2776.6 1528.3,2810.4"/><polygon points="1531.1,2774.5 1560.4,2757.7 1560.4,2791.4"/><polygon points="1563.1,2743 1592.4,2726.1 1592.4,2759.8"/><polygon points="1595.2,2773.9 1624.4,2757 1624.4,2790.8"/><polygon points="1627.2,2739.2 1656.4,2722.3 1656.4,2756"/><polygon points="1659.2,2704.4 1688.4,2687.5 1688.4,2721.3"/><polygon points="1691.2,2720.2 1720.5,2703.3 1720.5,2737.1"/><polygon points="1723.2,2821.9 1752.5,2805 1752.5,2838.8"/><polygon points="1755.3,2750.5 1784.5,2733.6 1784.5,2767.4"/><polygon points="1787.3,2724 1816.5,2707.1 1816.5,2740.9"/><polygon points="1819.3,2716.4 1848.5,2699.5 1848.5,2733.3"/>
</g>
<g stroke="#0000FF" fill="none" stroke-width="2.7">
<polyline points="269.8,1926 301.8,1904.6 333.9,1960.2 365.9,2000.6 397.9,2008.2 429.9,2044.8 461.9,2081.5 494,2085.2 526,2144.6 558,2154.1 590,2204 622,2223.6 654.1,2277.3 686.1,2281.1 718.1,2334.8 750.1,2370.2 782.1,2395.5 814.2,2472.5 846.2,2476.3 878.2,2533.8 910.2,2572.4 942.2,2602.7 974.3,2676 1006.3,2689.2 1038.3,2698.7 1070.3,2702.5 1102.3,2712.6 1134.4,2694.9 1166.4,2725.9 1198.4,2703.1 1230.4,2682.9 1262.4,2692.4 1294.5,2690.5 1326.5,2696.2 1358.5,2734.7 1390.5,2698.1 1422.5,2692.4 1454.6,2687.4 1486.6,2698.7 1518.6,2700.6 1550.6,2699.4 1582.6,2708.2 1614.7,2706.3 1646.7,2711.4 1678.7,2693 1710.7,2693 1742.7,2724 1774.8,2704.4 1806.8,2705 1838.8,2711.4" stroke-dasharray="23.5 14.4"/>
<circle cx="269.8" cy="1926" r="14.7"/><circle cx="301.8" cy="1904.6" r="14.7"/><circle cx="333.9" cy="1960.2" r="14.7"/><circle cx="365.9" cy="2000.6" r="14.7"/><circle cx="397.9" cy="2008.2" r="14.7"/><circle cx="429.9" cy="2044.8" r="14.7"/><circle cx="461.9" cy="2081.5" r="14.7"/><circle cx="494" cy="2085.2" r="14.7"/><circle cx="526" cy="2144.6" r="14.7"/><circle cx="558" cy="2154.1" r="14.7"/><circle cx="590" cy="2204" r="14.7"/><circle cx="622" cy="2223.6" r="14.7"/><circle cx="654.1" cy="2277.3" r="14.7"/><circle cx="686.1" cy="2281.1" r="14.7"/><circle cx="718.1" cy="2334.8" r="14.7"/><circle cx="750.1" cy="2370.2" r="14.7"/><circle cx="782.1" cy="2395.5" r="14.7"/><circle cx="814.2" cy="2472.5" r="14.7"/><circle cx="846.2" cy="2476.3" r="14.7"/><circle cx="878.2" cy="2533.8" r="14.7"/><circle cx="910.2" cy="2572.4" r="14.7"/><circle cx="942.2" cy="2602.7" r="14.7"/><circle cx="974.3" cy="2676" r="14.7"/><circle cx="1006.3" cy="2689.2" r="14.7"/><circle cx="1038.3" cy="2698.7" r="14.7"/><circle cx="1070.3" cy="2702.5" r="14.7"/><circle cx="1102.3" cy="2712.6" r="14.7"/><circle cx="1134.4" cy="2694.9" r="14.7"/><circle cx="1166.4" cy="2725.9" r="14.7"/><circle cx="1198.4" cy="2703.1" r="14.7"/><circle cx="1230.4" cy="2682.9" r="14.7"/><circle cx="1262.4" cy="2692.4" r="14.7"/><circle cx="1294.5" cy="2690.5" r="14.7"/><circle cx="1326.5" cy="2696.2" r="14.7"/><circle cx="1358.5" cy="2734.7" r="14.7"/><circle cx="1390.5" cy="2698.1" r="14.7"/><circle cx="1422.5" cy="2692.4" r="14.7"/><circle cx="1454.6" cy="2687.4" r="14.7"/><circle cx="1486.6" cy="2698.7" r="14.7"/><circle cx="1518.6" cy="2700.6" r="14.7"/><circle cx="1550.6" cy="2699.4" r="14.7"/><circle cx="1582.6" cy="2708.2" r="14.7"/><circle cx="1614.7" cy="2706.3" r="14.7"/><circle cx="1646.7" cy="2711.4" r="14.7"/><circle cx="1678.7" cy="2693" r="14.7"/><circle cx="1710.7" cy="2693" r="14.7"/><circle cx="1742.7" cy="2724" r="14.7"/><circle cx="1774.8" cy="2704.4" r="14.7"/><circle cx="1806.8" cy="2705" r="14.7"/><circle cx="1838.8" cy="2711.4" r="14.7"/>
</g>
<g stroke="#0000FF" fill="none" stroke-width="2.7">
<polyline points="269.8,1937.4 301.8,1906.4 333.9,1946.9 365.9,1977.8 397.9,2012 429.9,2072 461.9,2087.1 494,2137.1 526,2159.8 558,2211.6 590,2227.4 622,2294.4 654.1,2303.9 686.1,2357.6 718.1,2381.6 750.1,2454.9 782.1,2454.9 814.2,2513 846.2,2555.9 878.2,2579.9 910.2,2664.6 942.2,2672.2 974.3,2714.5 1006.3,2731.6 1038.3,2725.9 1070.3,2724 1102.3,2720.8 1134.4,2714.5 1166.4,2743 1198.4,2722.7 1230.4,2706.9 1262.4,2713.3 1294.5,2709.5 1326.5,2715.2 1358.5,2749.9 1390.5,2713.3 1422.5,2715.2 1454.6,2708.8 1486.6,2720.8 1518.6,2724 1550.6,2713.3 1582.6,2712.6 1614.7,2720.2 1646.7,2727.8 1678.7,2714.5 1710.7,2714.5 1742.7,2731.6 1774.8,2724 1806.8,2727.8 1838.8,2739.2" stroke-dasharray="19.8 8.7 2.6 8.7"/>
<rect x="257.5" y="1925.1" width="24.6" height="24.6"/><rect x="289.5" y="1894.1" width="24.6" height="24.6"/><rect x="321.6" y="1934.6" width="24.6" height="24.6"/><rect x="353.6" y="1965.5" width="24.6" height="24.6"/><rect x="385.6" y="1999.7" width="24.6" height="24.6"/><rect x="417.6" y="2059.7" width="24.6" height="24.6"/><rect x="449.6" y="2074.8" width="24.6" height="24.6"/><rect x="481.7" y="2124.8" width="24.6" height="24.6"/><rect x="513.7" y="2147.5" width="24.6" height="24.6"/><rect x="545.7" y="2199.3" width="24.6" height="24.6"/><rect x="577.7" y="2215.1" width="24.6" height="24.6"/><rect x="609.7" y="2282.1" width="24.6" height="24.6"/><rect x="641.8" y="2291.5" width="24.6" height="24.6"/><rect x="673.8" y="2345.3" width="24.6" height="24.6"/><rect x="705.8" y="2369.3" width="24.6" height="24.6"/><rect x="737.8" y="2442.5" width="24.6" height="24.6"/><rect x="769.8" y="2442.5" width="24.6" height="24.6"/><rect x="801.9" y="2500.7" width="24.6" height="24.6"/><rect x="833.9" y="2543.6" width="24.6" height="24.6"/><rect x="865.9" y="2567.6" width="24.6" height="24.6"/><rect x="897.9" y="2652.3" width="24.6" height="24.6"/><rect x="929.9" y="2659.9" width="24.6" height="24.6"/><rect x="962" y="2702.2" width="24.6" height="24.6"/><rect x="994" y="2719.3" width="24.6" height="24.6"/><rect x="1026" y="2713.6" width="24.6" height="24.6"/><rect x="1058" y="2711.7" width="24.6" height="24.6"/><rect x="1090" y="2708.5" width="24.6" height="24.6"/><rect x="1122.1" y="2702.2" width="24.6" height="24.6"/><rect x="1154.1" y="2730.6" width="24.6" height="24.6"/><rect x="1186.1" y="2710.4" width="24.6" height="24.6"/><rect x="1218.1" y="2694.6" width="24.6" height="24.6"/><rect x="1250.1" y="2701" width="24.6" height="24.6"/><rect x="1282.2" y="2697.2" width="24.6" height="24.6"/><rect x="1314.2" y="2702.9" width="24.6" height="24.6"/><rect x="1346.2" y="2737.6" width="24.6" height="24.6"/><rect x="1378.2" y="2701" width="24.6" height="24.6"/><rect x="1410.2" y="2702.9" width="24.6" height="24.6"/><rect x="1442.3" y="2696.5" width="24.6" height="24.6"/><rect x="1474.3" y="2708.5" width="24.6" height="24.6"/><rect x="1506.3" y="2711.7" width="24.6" height="24.6"/><rect x="1538.3" y="2701" width="24.6" height="24.6"/><rect x="1570.3" y="2700.3" width="24.6" height="24.6"/><rect x="1602.4" y="2707.9" width="24.6" height="24.6"/><rect x="1634.4" y="2715.5" width="24.6" height="24.6"/><rect x="1666.4" y="2702.2" width="24.6" height="24.6"/><rect x="1698.4" y="2702.2" width="24.6" height="24.6"/><rect x="1730.4" y="2719.3" width="24.6" height="24.6"/><rect x="1762.5" y="2711.7" width="24.6" height="24.6"/><rect x="1794.5" y="2715.5" width="24.6" height="24.6"/><rect x="1826.5" y="2726.9" width="24.6" height="24.6"/>
</g>
<g stroke="#0000FF" fill="none" stroke-width="2.7">
<polyline points="269.8,1954.5 301.8,1927.9 333.9,1958.3 365.9,1985.4 397.9,2010.1 429.9,2063.8 461.9,2137.1 494,2140.8 526,2204 558,2238.8 590,2265.3 622,2320.9 654.1,2357.6 686.1,2394.2 718.1,2453 750.1,2480.1 782.1,2537.6 814.2,2564.8 846.2,2634.3 878.2,2645 910.2,2700.6 942.2,2764.4 974.3,2764.4 1006.3,2766.3 1038.3,2752.4 1070.3,2752.4 1102.3,2766.3 1134.4,2746.7 1166.4,2777.7 1198.4,2753.1 1230.4,2743 1262.4,2748 1294.5,2740.4 1326.5,2748 1358.5,2775.2 1390.5,2749.9 1422.5,2748 1454.6,2740.4 1486.6,2751.2 1518.6,2758.7 1550.6,2744.8 1582.6,2731.6 1614.7,2756.2 1646.7,2760 1678.7,2746.7 1710.7,2746.7 1742.7,2773.9 1774.8,2758.1 1806.8,2761.9 1838.8,2770.1" stroke-dasharray="2.6 7.2"/>
<polygon points="250.3,1954.5 279.6,1937.6 279.6,1971.3"/><polygon points="282.3,1927.9 311.6,1911 311.6,1944.8"/><polygon points="314.4,1958.3 343.6,1941.4 343.6,1975.1"/><polygon points="346.4,1985.4 375.6,1968.5 375.6,2002.3"/><polygon points="378.4,2010.1 407.6,1993.2 407.6,2026.9"/><polygon points="410.4,2063.8 439.7,2046.9 439.7,2080.7"/><polygon points="442.4,2137.1 471.7,2120.2 471.7,2153.9"/><polygon points="474.5,2140.8 503.7,2124 503.7,2157.7"/><polygon points="506.5,2204 535.7,2187.1 535.7,2220.9"/><polygon points="538.5,2238.8 567.7,2221.9 567.7,2255.7"/><polygon points="570.5,2265.3 599.8,2248.4 599.8,2282.2"/><polygon points="602.5,2320.9 631.8,2304 631.8,2337.8"/><polygon points="634.6,2357.6 663.8,2340.7 663.8,2374.4"/><polygon points="666.6,2394.2 695.8,2377.3 695.8,2411.1"/><polygon points="698.6,2453 727.8,2436.1 727.8,2469.8"/><polygon points="730.6,2480.1 759.9,2463.2 759.9,2497"/><polygon points="762.6,2537.6 791.9,2520.7 791.9,2554.5"/><polygon points="794.7,2564.8 823.9,2547.9 823.9,2581.7"/><polygon points="826.7,2634.3 855.9,2617.4 855.9,2651.2"/><polygon points="858.7,2645 887.9,2628.1 887.9,2661.9"/><polygon points="890.7,2700.6 920,2683.7 920,2717.5"/><polygon points="922.7,2764.4 952,2747.5 952,2781.3"/><polygon points="954.8,2764.4 984,2747.5 984,2781.3"/><polygon points="986.8,2766.3 1016,2749.4 1016,2783.2"/><polygon points="1018.8,2752.4 1048,2735.5 1048,2769.3"/><polygon points="1050.8,2752.4 1080.1,2735.5 1080.1,2769.3"/><polygon points="1082.8,2766.3 1112.1,2749.4 1112.1,2783.2"/><polygon points="1114.9,2746.7 1144.1,2729.9 1144.1,2763.6"/><polygon points="1146.9,2777.7 1176.1,2760.8 1176.1,2794.6"/><polygon points="1178.9,2753.1 1208.1,2736.2 1208.1,2769.9"/><polygon points="1210.9,2743 1240.2,2726.1 1240.2,2759.8"/><polygon points="1242.9,2748 1272.2,2731.1 1272.2,2764.9"/><polygon points="1275,2740.4 1304.2,2723.5 1304.2,2757.3"/><polygon points="1307,2748 1336.2,2731.1 1336.2,2764.9"/><polygon points="1339,2775.2 1368.2,2758.3 1368.2,2792.1"/><polygon points="1371,2749.9 1400.3,2733 1400.3,2766.8"/><polygon points="1403,2748 1432.3,2731.1 1432.3,2764.9"/><polygon points="1435.1,2740.4 1464.3,2723.5 1464.3,2757.3"/><polygon points="1467.1,2751.2 1496.3,2734.3 1496.3,2768"/><polygon points="1499.1,2758.7 1528.3,2741.9 1528.3,2775.6"/><polygon points="1531.1,2744.8 1560.4,2728 1560.4,2761.7"/><polygon points="1563.1,2731.6 1592.4,2714.7 1592.4,2748.5"/><polygon points="1595.2,2756.2 1624.4,2739.3 1624.4,2773.1"/><polygon points="1627.2,2760 1656.4,2743.1 1656.4,2776.9"/><polygon points="1659.2,2746.7 1688.4,2729.9 1688.4,2763.6"/><polygon points="1691.2,2746.7 1720.5,2729.9 1720.5,2763.6"/><polygon points="1723.2,2773.9 1752.5,2757 1752.5,2790.8"/><polygon points="1755.3,2758.1 1784.5,2741.2 1784.5,2775"/><polygon points="1787.3,2761.9 1816.5,2745 1816.5,2778.8"/><polygon points="1819.3,2770.1 1848.5,2753.2 1848.5,2787"/>
</g>
<g stroke="#FF8C00" fill="none" stroke-width="2.7">
<polyline points="269.8,1878 301.8,1849 333.9,1868.5 365.9,1889.4 397.9,1902.7 429.9,1935.5 461.9,1956.4 494,1959.5 526,1966.5 558,1981.6 590,2001.9 622,2024 654.1,2025.9 686.1,2037.2 718.1,2072 750.1,2083.4 782.1,2087.1 814.2,2109.9 846.2,2140.8 878.2,2140.8 910.2,2156 942.2,2188.9 974.3,2198.3 1006.3,2207.8 1038.3,2237.5 1070.3,2256.5 1102.3,2262.2 1134.4,2291.2 1166.4,2314 1198.4,2317.8 1230.4,2348.7 1262.4,2369.6 1294.5,2377.8 1326.5,2410 1358.5,2425.2 1390.5,2439.1 1422.5,2475.1 1454.6,2482 1486.6,2502.9 1518.6,2541.4 1550.6,2539.5 1582.6,2572.4 1614.7,2597 1646.7,2602.7 1678.7,2648.8 1710.7,2652.6 1742.7,2668.4 1774.8,2696.8 1806.8,2698.7 1838.8,2691.1" stroke-dasharray="23.5 14.4"/>
<circle cx="269.8" cy="1878" r="14.7"/><circle cx="301.8" cy="1849" r="14.7"/><circle cx="333.9" cy="1868.5" r="14.7"/><circle cx="365.9" cy="1889.4" r="14.7"/><circle cx="397.9" cy="1902.7" r="14.7"/><circle cx="429.9" cy="1935.5" r="14.7"/><circle cx="461.9" cy="1956.4" r="14.7"/><circle cx="494" cy="1959.5" r="14.7"/><circle cx="526" cy="1966.5" r="14.7"/><circle cx="558" cy="1981.6" r="14.7"/><circle cx="590" cy="2001.9" r="14.7"/><circle cx="622" cy="2024" r="14.7"/><circle cx="654.1" cy="2025.9" r="14.7"/><circle cx="686.1" cy="2037.2" r="14.7"/><circle cx="718.1" cy="2072" r="14.7"/><circle cx="750.1" cy="2083.4" r="14.7"/><circle cx="782.1" cy="2087.1" r="14.7"/><circle cx="814.2" cy="2109.9" r="14.7"/><circle cx="846.2" cy="2140.8" r="14.7"/><circle cx="878.2" cy="2140.8" r="14.7"/><circle cx="910.2" cy="2156" r="14.7"/><circle cx="942.2" cy="2188.9" r="14.7"/><circle cx="974.3" cy="2198.3" r="14.7"/><circle cx="1006.3" cy="2207.8" r="14.7"/><circle cx="1038.3" cy="2237.5" r="14.7"/><circle cx="1070.3" cy="2256.5" r="14.7"/><circle cx="1102.3" cy="2262.2" r="14.7"/><circle cx="1134.4" cy="2291.2" r="14.7"/><circle cx="1166.4" cy="2314" r="14.7"/><circle cx="1198.4" cy="2317.8" r="14.7"/><circle cx="1230.4" cy="2348.7" r="14.7"/><circle cx="1262.4" cy="2369.6" r="14.7"/><circle cx="1294.5" cy="2377.8" r="14.7"/><circle cx="1326.5" cy="2410" r="14.7"/><circle cx="1358.5" cy="2425.2" r="14.7"/><circle cx="1390.5" cy="2439.1" r="14.7"/><circle cx="1422.5" cy="2475.1" r="14.7"/><circle cx="1454.6" cy="2482" r="14.7"/><circle cx="1486.6" cy="2502.9" r="14.7"/><circle cx="1518.6" cy="2541.4" r="14.7"/><circle cx="1550.6" cy="2539.5" r="14.7"/><circle cx="1582.6" cy="2572.4" r="14.7"/><circle cx="1614.7" cy="2597" r="14.7"/><circle cx="1646.7" cy="2602.7" r="14.7"/><circle cx="1678.7" cy="2648.8" r="14.7"/><circle cx="1710.7" cy="2652.6" r="14.7"/><circle cx="1742.7" cy="2668.4" r="14.7"/><circle cx="1774.8" cy="2696.8" r="14.7"/><circle cx="1806.8" cy="2698.7" r="14.7"/><circle cx="1838.8" cy="2691.1" r="14.7"/>
</g>
<g stroke="#FF8C00" fill="none" stroke-width="2.7">
<polyline points="269.8,1883.7 301.8,1862.9 333.9,1870.4 365.9,1883.7 397.9,1897 429.9,1915.9 461.9,1937.4 494,1956.4 526,1991.1 558,2020.2 590,2022.1 622,2033.4 654.1,2060 686.1,2090.9 718.1,2094.7 750.1,2108 782.1,2131.4 814.2,2163.6 846.2,2165.5 878.2,2181.3 910.2,2225.5 942.2,2227.4 974.3,2236.9 1006.3,2275.4 1038.3,2293.1 1070.3,2296.9 1102.3,2331.7 1134.4,2355 1166.4,2356.9 1198.4,2391 1230.4,2415.7 1262.4,2417.6 1294.5,2456.1 1326.5,2475.1 1358.5,2481.4 1390.5,2525 1422.5,2533.2 1454.6,2547.1 1486.6,2593.8 1518.6,2595.1 1550.6,2615.3 1582.6,2652.6 1614.7,2658.3 1646.7,2691.1 1678.7,2700.6 1710.7,2714.5 1742.7,2712.6 1774.8,2729.7 1806.8,2724 1838.8,2712.6" stroke-dasharray="19.8 8.7 2.6 8.7"/>
<rect x="257.5" y="1871.4" width="24.6" height="24.6"/><rect x="289.5" y="1850.6" width="24.6" height="24.6"/><rect x="321.6" y="1858.1" width="24.6" height="24.6"/><rect x="353.6" y="1871.4" width="24.6" height="24.6"/><rect x="385.6" y="1884.7" width="24.6" height="24.6"/><rect x="417.6" y="1903.6" width="24.6" height="24.6"/><rect x="449.6" y="1925.1" width="24.6" height="24.6"/><rect x="481.7" y="1944.1" width="24.6" height="24.6"/><rect x="513.7" y="1978.8" width="24.6" height="24.6"/><rect x="545.7" y="2007.9" width="24.6" height="24.6"/><rect x="577.7" y="2009.8" width="24.6" height="24.6"/><rect x="609.7" y="2021.1" width="24.6" height="24.6"/><rect x="641.8" y="2047.7" width="24.6" height="24.6"/><rect x="673.8" y="2078.6" width="24.6" height="24.6"/><rect x="705.8" y="2082.4" width="24.6" height="24.6"/><rect x="737.8" y="2095.7" width="24.6" height="24.6"/><rect x="769.8" y="2119.1" width="24.6" height="24.6"/><rect x="801.9" y="2151.3" width="24.6" height="24.6"/><rect x="833.9" y="2153.2" width="24.6" height="24.6"/><rect x="865.9" y="2169" width="24.6" height="24.6"/><rect x="897.9" y="2213.2" width="24.6" height="24.6"/><rect x="929.9" y="2215.1" width="24.6" height="24.6"/><rect x="962" y="2224.6" width="24.6" height="24.6"/><rect x="994" y="2263.1" width="24.6" height="24.6"/><rect x="1026" y="2280.8" width="24.6" height="24.6"/><rect x="1058" y="2284.6" width="24.6" height="24.6"/><rect x="1090" y="2319.3" width="24.6" height="24.6"/><rect x="1122.1" y="2342.7" width="24.6" height="24.6"/><rect x="1154.1" y="2344.6" width="24.6" height="24.6"/><rect x="1186.1" y="2378.7" width="24.6" height="24.6"/><rect x="1218.1" y="2403.4" width="24.6" height="24.6"/><rect x="1250.1" y="2405.3" width="24.6" height="24.6"/><rect x="1282.2" y="2443.8" width="24.6" height="24.6"/><rect x="1314.2" y="2462.8" width="24.6" height="24.6"/><rect x="1346.2" y="2469.1" width="24.6" height="24.6"/><rect x="1378.2" y="2512.7" width="24.6" height="24.6"/><rect x="1410.2" y="2520.9" width="24.6" height="24.6"/><rect x="1442.3" y="2534.8" width="24.6" height="24.6"/><rect x="1474.3" y="2581.5" width="24.6" height="24.6"/><rect x="1506.3" y="2582.8" width="24.6" height="24.6"/><rect x="1538.3" y="2603" width="24.6" height="24.6"/><rect x="1570.3" y="2640.3" width="24.6" height="24.6"/><rect x="1602.4" y="2646" width="24.6" height="24.6"/><rect x="1634.4" y="2678.8" width="24.6" height="24.6"/><rect x="1666.4" y="2688.3" width="24.6" height="24.6"/><rect x="1698.4" y="2702.2" width="24.6" height="24.6"/><rect x="1730.4" y="2700.3" width="24.6" height="24.6"/><rect x="1762.5" y="2717.4" width="24.6" height="24.6"/><rect x="1794.5" y="2711.7" width="24.6" height="24.6"/><rect x="1826.5" y="2700.3" width="24.6" height="24.6"/>
</g>
<g stroke="#FF8C00" fill="none" stroke-width="2.7">
<polyline points="269.8,1908.3 301.8,1887.5 333.9,1893.2 365.9,1902.7 397.9,1912.1 429.9,1924.1 461.9,1945 494,1954.5 526,1979.7 558,2006.3 590,2031.5 622,2087.1 654.1,2087.1 686.1,2094.7 718.1,2123.8 750.1,2163.6 782.1,2171.8 814.2,2183.2 846.2,2209.7 878.2,2246.4 910.2,2252 942.2,2269.1 974.3,2302 1006.3,2315.2 1038.3,2329.1 1070.3,2362 1102.3,2386.6 1134.4,2395.5 1166.4,2425.2 1198.4,2452.3 1230.4,2462.4 1262.4,2490.9 1294.5,2515.5 1326.5,2526.9 1358.5,2561.6 1390.5,2577.4 1422.5,2593.8 1454.6,2635.5 1486.6,2643.1 1518.6,2667.8 1550.6,2704.4 1582.6,2708.2 1614.7,2739.2 1646.7,2746.7 1678.7,2741.1 1710.7,2746.7 1742.7,2741.1 1774.8,2758.1 1806.8,2754.3 1838.8,2746.7" stroke-dasharray="2.6 7.2"/>
<polygon points="250.3,1908.3 279.6,1891.5 279.6,1925.2"/><polygon points="282.3,1887.5 311.6,1870.6 311.6,1904.4"/><polygon points="314.4,1893.2 343.6,1876.3 343.6,1910.1"/><polygon points="346.4,1902.7 375.6,1885.8 375.6,1919.5"/><polygon points="378.4,1912.1 407.6,1895.3 407.6,1929"/><polygon points="410.4,1924.1 439.7,1907.3 439.7,1941"/><polygon points="442.4,1945 471.7,1928.1 471.7,1961.9"/><polygon points="474.5,1954.5 503.7,1937.6 503.7,1971.3"/><polygon points="506.5,1979.7 535.7,1962.9 535.7,1996.6"/><polygon points="538.5,2006.3 567.7,1989.4 567.7,2023.2"/><polygon points="570.5,2031.5 599.8,2014.7 599.8,2048.4"/><polygon points="602.5,2087.1 631.8,2070.3 631.8,2104"/><polygon points="634.6,2087.1 663.8,2070.3 663.8,2104"/><polygon points="666.6,2094.7 695.8,2077.8 695.8,2111.6"/><polygon points="698.6,2123.8 727.8,2106.9 727.8,2140.7"/><polygon points="730.6,2163.6 759.9,2146.7 759.9,2180.5"/><polygon points="762.6,2171.8 791.9,2154.9 791.9,2188.7"/><polygon points="794.7,2183.2 823.9,2166.3 823.9,2200.1"/><polygon points="826.7,2209.7 855.9,2192.8 855.9,2226.6"/><polygon points="858.7,2246.4 887.9,2229.5 887.9,2263.2"/><polygon points="890.7,2252 920,2235.2 920,2268.9"/><polygon points="922.7,2269.1 952,2252.2 952,2286"/><polygon points="954.8,2302 984,2285.1 984,2318.8"/><polygon points="986.8,2315.2 1016,2298.3 1016,2332.1"/><polygon points="1018.8,2329.1 1048,2312.2 1048,2346"/><polygon points="1050.8,2362 1080.1,2345.1 1080.1,2378.9"/><polygon points="1082.8,2386.6 1112.1,2369.7 1112.1,2403.5"/><polygon points="1114.9,2395.5 1144.1,2378.6 1144.1,2412.3"/><polygon points="1146.9,2425.2 1176.1,2408.3 1176.1,2442"/><polygon points="1178.9,2452.3 1208.1,2435.4 1208.1,2469.2"/><polygon points="1210.9,2462.4 1240.2,2445.5 1240.2,2479.3"/><polygon points="1242.9,2490.9 1272.2,2474 1272.2,2507.7"/><polygon points="1275,2515.5 1304.2,2498.6 1304.2,2532.4"/><polygon points="1307,2526.9 1336.2,2510 1336.2,2543.8"/><polygon points="1339,2561.6 1368.2,2544.7 1368.2,2578.5"/><polygon points="1371,2577.4 1400.3,2560.5 1400.3,2594.3"/><polygon points="1403,2593.8 1432.3,2577 1432.3,2610.7"/><polygon points="1435.1,2635.5 1464.3,2618.7 1464.3,2652.4"/><polygon points="1467.1,2643.1 1496.3,2626.2 1496.3,2660"/><polygon points="1499.1,2667.8 1528.3,2650.9 1528.3,2684.7"/><polygon points="1531.1,2704.4 1560.4,2687.5 1560.4,2721.3"/><polygon points="1563.1,2708.2 1592.4,2691.3 1592.4,2725.1"/><polygon points="1595.2,2739.2 1624.4,2722.3 1624.4,2756"/><polygon points="1627.2,2746.7 1656.4,2729.9 1656.4,2763.6"/><polygon points="1659.2,2741.1 1688.4,2724.2 1688.4,2757.9"/><polygon points="1691.2,2746.7 1720.5,2729.9 1720.5,2763.6"/><polygon points="1723.2,2741.1 1752.5,2724.2 1752.5,2757.9"/><polygon points="1755.3,2758.1 1784.5,2741.2 1784.5,2775"/><polygon points="1787.3,2754.3 1816.5,2737.4 1816.5,2771.2"/><polygon points="1819.3,2746.7 1848.5,2729.9 1848.5,2763.6"/>
</g>
<g stroke="#262626" stroke-width="2.9" fill="none">
<rect x="251" y="3307" width="1582.2" height="1248.8"/>
<path d="M251 3364.2H268M1833.2 3364.2H1816.2M251 3443.6H260M1833.2 3443.6H1824.2M251 3523.1H260M1833.2 3523.1H1824.2M251 3602.5H260M1833.2 3602.5H1824.2M251 3682H260M1833.2 3682H1824.2M251 3761.4H268M1833.2 3761.4H1816.2M251 3840.8H260M1833.2 3840.8H1824.2M251 3920.3H260M1833.2 3920.3H1824.2M251 3999.7H260M1833.2 3999.7H1824.2M251 4079.2H260M1833.2 4079.2H1824.2M251 4158.6H268M1833.2 4158.6H1816.2M251 4238H260M1833.2 4238H1824.2M251 4317.5H260M1833.2 4317.5H1824.2M251 4396.9H260M1833.2 4396.9H1824.2M251 4476.4H260M1833.2 4476.4H1824.2M251 4555.8H268M1833.2 4555.8H1816.2M251 4555.8V4538.8M251 3307V3324M567.4 4555.8V4538.8M567.4 3307V3324M883.8 4555.8V4538.8M883.8 3307V3324M1200.2 4555.8V4538.8M1200.2 3307V3324M1516.6 4555.8V4538.8M1516.6 3307V3324M1833 4555.8V4538.8M1833 3307V3324"/>
</g>
<g fill="#262626" font-family="'Liberation Sans', Arial, Helvetica, sans-serif">
<text x="232" y="3390.4" text-anchor="end" font-size="49.3">10<tspan font-size="39" dy="-25.5">0</tspan></text>
<text x="232" y="3787.6" text-anchor="end" font-size="49.3">10<tspan font-size="39" dy="-25.5">-5</tspan></text>
<text x="232" y="4184.8" text-anchor="end" font-size="49.3">10<tspan font-size="39" dy="-25.5">-10</tspan></text>
<text x="232" y="4582" text-anchor="end" font-size="49.3">10<tspan font-size="39" dy="-25.5">-15</tspan></text>
<text x="251" y="4625.8" text-anchor="middle" font-size="49.3">0</text>
<text x="567.4" y="4625.8" text-anchor="middle" font-size="49.3">10</text>
<text x="883.8" y="4625.8" text-anchor="middle" font-size="49.3">20</text>
<text x="1200.2" y="4625.8" text-anchor="middle" font-size="49.3">30</text>
<text x="1516.6" y="4625.8" text-anchor="middle" font-size="49.3">40</text>
<text x="1833" y="4625.8" text-anchor="middle" font-size="49.3">50</text>
</g>
<g stroke="#000000" fill="none" stroke-width="2.6">
<polyline points="282.6,3382.5 314.3,3509.6 345.9,3592.2 377.6,3687.5 409.2,3776.5 440.8,3856.7 472.5,3957.6 504.1,4140.3 535.8,4178.5 567.4,4251.5 599,4345.3 630.7,4407.2 662.3,4380.2 694,4410.4 725.6,4385.8 757.2,4373.9 788.9,4350.8 820.5,4399.3 852.2,4326.2 883.8,4395.3 915.4,4404.9 947.1,4380.2 978.7,4377.9 1010.4,4357.2 1042,4330.2 1073.6,4326.2 1105.3,4422.3 1136.9,4370.7 1168.6,4324.6 1200.2,4338.1 1231.8,4354.8 1263.5,4365.1 1295.1,4315.1 1326.8,4380.2 1358.4,4359.6 1390,4333.4 1421.7,4282.5 1453.3,4338.9 1485,4332.6 1516.6,4300.8 1548.2,4323.8 1579.9,4341.3 1611.5,4277 1643.2,4366.7 1674.8,4351.6 1706.4,4323 1738.1,4284.1 1769.7,4374.7 1801.4,4290.5 1833,4288.1" stroke-dasharray="23.2 14.2"/>
<circle cx="282.6" cy="3382.5" r="14.5"/><circle cx="314.3" cy="3509.6" r="14.5"/><circle cx="345.9" cy="3592.2" r="14.5"/><circle cx="377.6" cy="3687.5" r="14.5"/><circle cx="409.2" cy="3776.5" r="14.5"/><circle cx="440.8" cy="3856.7" r="14.5"/><circle cx="472.5" cy="3957.6" r="14.5"/><circle cx="504.1" cy="4140.3" r="14.5"/><circle cx="535.8" cy="4178.5" r="14.5"/><circle cx="567.4" cy="4251.5" r="14.5"/><circle cx="599" cy="4345.3" r="14.5"/><circle cx="630.7" cy="4407.2" r="14.5"/><circle cx="662.3" cy="4380.2" r="14.5"/><circle cx="694" cy="4410.4" r="14.5"/><circle cx="725.6" cy="4385.8" r="14.5"/><circle cx="757.2" cy="4373.9" r="14.5"/><circle cx="788.9" cy="4350.8" r="14.5"/><circle cx="820.5" cy="4399.3" r="14.5"/><circle cx="852.2" cy="4326.2" r="14.5"/><circle cx="883.8" cy="4395.3" r="14.5"/><circle cx="915.4" cy="4404.9" r="14.5"/><circle cx="947.1" cy="4380.2" r="14.5"/><circle cx="978.7" cy="4377.9" r="14.5"/><circle cx="1010.4" cy="4357.2" r="14.5"/><circle cx="1042" cy="4330.2" r="14.5"/><circle cx="1073.6" cy="4326.2" r="14.5"/><circle cx="1105.3" cy="4422.3" r="14.5"/><circle cx="1136.9" cy="4370.7" r="14.5"/><circle cx="1168.6" cy="4324.6" r="14.5"/><circle cx="1200.2" cy="4338.1" r="14.5"/><circle cx="1231.8" cy="4354.8" r="14.5"/><circle cx="1263.5" cy="4365.1" r="14.5"/><circle cx="1295.1" cy="4315.1" r="14.5"/><circle cx="1326.8" cy="4380.2" r="14.5"/><circle cx="1358.4" cy="4359.6" r="14.5"/><circle cx="1390" cy="4333.4" r="14.5"/><circle cx="1421.7" cy="4282.5" r="14.5"/><circle cx="1453.3" cy="4338.9" r="14.5"/><circle cx="1485" cy="4332.6" r="14.5"/><circle cx="1516.6" cy="4300.8" r="14.5"/><circle cx="1548.2" cy="4323.8" r="14.5"/><circle cx="1579.9" cy="4341.3" r="14.5"/><circle cx="1611.5" cy="4277" r="14.5"/><circle cx="1643.2" cy="4366.7" r="14.5"/><circle cx="1674.8" cy="4351.6" r="14.5"/><circle cx="1706.4" cy="4323" r="14.5"/><circle cx="1738.1" cy="4284.1" r="14.5"/><circle cx="1769.7" cy="4374.7" r="14.5"/><circle cx="1801.4" cy="4290.5" r="14.5"/><circle cx="1833" cy="4288.1" r="14.5"/>
</g>
<g stroke="#000000" fill="none" stroke-width="2.6">
<polyline points="282.6,3423 314.3,3500 345.9,3595.4 377.6,3693.9 409.2,3862.3 440.8,3906.8 472.5,3994.2 504.1,4132.4 535.8,4341.3 567.4,4337.3 599,4422.3 630.7,4410.4 662.3,4414.4 694,4410.4 725.6,4400.9 757.2,4427.9 788.9,4370.7 820.5,4407.2 852.2,4403.3 883.8,4391.4 915.4,4403.3 947.1,4449.4 978.7,4470 1010.4,4412.8 1042,4373.9 1073.6,4349.3 1105.3,4410.4 1136.9,4331.8 1168.6,4362.8 1200.2,4370.7 1231.8,4364.3 1263.5,4388.2 1295.1,4338.1 1326.8,4385.8 1358.4,4342.1 1390,4339.7 1421.7,4393.7 1453.3,4377.9 1485,4328.6 1516.6,4333.4 1548.2,4309.5 1579.9,4337.3 1611.5,4330.2 1643.2,4327 1674.8,4351.6 1706.4,4323 1738.1,4369.1 1769.7,4363.6 1801.4,4350.1 1833,4355.6" stroke-dasharray="19.6 8.6 2.6 8.6"/>
<rect x="270.5" y="3410.8" width="24.3" height="24.3"/><rect x="302.1" y="3487.9" width="24.3" height="24.3"/><rect x="333.8" y="3583.2" width="24.3" height="24.3"/><rect x="365.4" y="3681.7" width="24.3" height="24.3"/><rect x="397" y="3850.1" width="24.3" height="24.3"/><rect x="428.7" y="3894.6" width="24.3" height="24.3"/><rect x="460.3" y="3982" width="24.3" height="24.3"/><rect x="492" y="4120.2" width="24.3" height="24.3"/><rect x="523.6" y="4329.2" width="24.3" height="24.3"/><rect x="555.2" y="4325.2" width="24.3" height="24.3"/><rect x="586.9" y="4410.2" width="24.3" height="24.3"/><rect x="618.5" y="4398.3" width="24.3" height="24.3"/><rect x="650.2" y="4402.2" width="24.3" height="24.3"/><rect x="681.8" y="4398.3" width="24.3" height="24.3"/><rect x="713.4" y="4388.7" width="24.3" height="24.3"/><rect x="745.1" y="4415.7" width="24.3" height="24.3"/><rect x="776.7" y="4358.5" width="24.3" height="24.3"/><rect x="808.4" y="4395.1" width="24.3" height="24.3"/><rect x="840" y="4391.1" width="24.3" height="24.3"/><rect x="871.6" y="4379.2" width="24.3" height="24.3"/><rect x="903.3" y="4391.1" width="24.3" height="24.3"/><rect x="934.9" y="4437.2" width="24.3" height="24.3"/><rect x="966.6" y="4457.8" width="24.3" height="24.3"/><rect x="998.2" y="4400.6" width="24.3" height="24.3"/><rect x="1029.8" y="4361.7" width="24.3" height="24.3"/><rect x="1061.5" y="4337.1" width="24.3" height="24.3"/><rect x="1093.1" y="4398.3" width="24.3" height="24.3"/><rect x="1124.8" y="4319.6" width="24.3" height="24.3"/><rect x="1156.4" y="4350.6" width="24.3" height="24.3"/><rect x="1188" y="4358.5" width="24.3" height="24.3"/><rect x="1219.7" y="4352.2" width="24.3" height="24.3"/><rect x="1251.3" y="4376" width="24.3" height="24.3"/><rect x="1283" y="4326" width="24.3" height="24.3"/><rect x="1314.6" y="4373.6" width="24.3" height="24.3"/><rect x="1346.2" y="4329.9" width="24.3" height="24.3"/><rect x="1377.9" y="4327.6" width="24.3" height="24.3"/><rect x="1409.5" y="4381.6" width="24.3" height="24.3"/><rect x="1441.2" y="4365.7" width="24.3" height="24.3"/><rect x="1472.8" y="4316.4" width="24.3" height="24.3"/><rect x="1504.4" y="4321.2" width="24.3" height="24.3"/><rect x="1536.1" y="4297.4" width="24.3" height="24.3"/><rect x="1567.7" y="4325.2" width="24.3" height="24.3"/><rect x="1599.4" y="4318" width="24.3" height="24.3"/><rect x="1631" y="4314.9" width="24.3" height="24.3"/><rect x="1662.6" y="4339.5" width="24.3" height="24.3"/><rect x="1694.3" y="4310.9" width="24.3" height="24.3"/><rect x="1725.9" y="4357" width="24.3" height="24.3"/><rect x="1757.6" y="4351.4" width="24.3" height="24.3"/><rect x="1789.2" y="4337.9" width="24.3" height="24.3"/><rect x="1820.8" y="4343.5" width="24.3" height="24.3"/>
</g>
<g stroke="#000000" fill="none" stroke-width="2.6">
<polyline points="282.6,3437.3 314.3,3407.9 345.9,3565.2 377.6,3662.9 409.2,3809.1 440.8,3986.2 472.5,4025.1 504.1,4141.9 535.8,4269 567.4,4403.3 599,4400.9 630.7,4399.3 662.3,4373.9 694,4407.2 725.6,4400.9 757.2,4407.2 788.9,4408.8 820.5,4404.9 852.2,4381 883.8,4351.6 915.4,4372.3 947.1,4381.8 978.7,4389 1010.4,4414.4 1042,4365.1 1073.6,4349.3 1105.3,4406.5 1136.9,4357.2 1168.6,4361.2 1200.2,4335.8 1231.8,4391.4 1263.5,4408.8 1295.1,4380.2 1326.8,4389 1358.4,4404.9 1390,4343.7 1421.7,4324.6 1453.3,4389.8 1485,4360.4 1516.6,4341.3 1548.2,4361.2 1579.9,4366.7 1611.5,4351.6 1643.2,4333.4 1674.8,4359.6 1706.4,4363.6 1738.1,4374.7 1769.7,4328.6 1801.4,4366.7 1833,4363.6" stroke-dasharray="2.6 7.1"/>
<polygon points="263.4,3437.3 292.3,3420.6 292.3,3454"/><polygon points="295,3407.9 323.9,3391.2 323.9,3424.6"/><polygon points="326.7,3565.2 355.6,3548.5 355.6,3581.9"/><polygon points="358.3,3662.9 387.2,3646.2 387.2,3679.6"/><polygon points="389.9,3809.1 418.8,3792.4 418.8,3825.8"/><polygon points="421.6,3986.2 450.5,3969.5 450.5,4002.9"/><polygon points="453.2,4025.1 482.1,4008.5 482.1,4041.8"/><polygon points="484.9,4141.9 513.8,4125.2 513.8,4158.6"/><polygon points="516.5,4269 545.4,4252.3 545.4,4285.7"/><polygon points="548.1,4403.3 577,4386.6 577,4420"/><polygon points="579.8,4400.9 608.7,4384.2 608.7,4417.6"/><polygon points="611.4,4399.3 640.3,4382.6 640.3,4416"/><polygon points="643.1,4373.9 672,4357.2 672,4390.6"/><polygon points="674.7,4407.2 703.6,4390.6 703.6,4423.9"/><polygon points="706.3,4400.9 735.2,4384.2 735.2,4417.6"/><polygon points="738,4407.2 766.9,4390.6 766.9,4423.9"/><polygon points="769.6,4408.8 798.5,4392.1 798.5,4425.5"/><polygon points="801.3,4404.9 830.2,4388.2 830.2,4421.6"/><polygon points="832.9,4381 861.8,4364.3 861.8,4397.7"/><polygon points="864.5,4351.6 893.4,4335 893.4,4368.3"/><polygon points="896.2,4372.3 925.1,4355.6 925.1,4389"/><polygon points="927.8,4381.8 956.7,4365.1 956.7,4398.5"/><polygon points="959.5,4389 988.4,4372.3 988.4,4405.7"/><polygon points="991.1,4414.4 1020,4397.7 1020,4431.1"/><polygon points="1022.7,4365.1 1051.6,4348.5 1051.6,4381.8"/><polygon points="1054.4,4349.3 1083.3,4332.6 1083.3,4365.9"/><polygon points="1086,4406.5 1114.9,4389.8 1114.9,4423.1"/><polygon points="1117.7,4357.2 1146.6,4340.5 1146.6,4373.9"/><polygon points="1149.3,4361.2 1178.2,4344.5 1178.2,4377.9"/><polygon points="1180.9,4335.8 1209.8,4319.1 1209.8,4352.4"/><polygon points="1212.6,4391.4 1241.5,4374.7 1241.5,4408"/><polygon points="1244.2,4408.8 1273.1,4392.1 1273.1,4425.5"/><polygon points="1275.9,4380.2 1304.8,4363.6 1304.8,4396.9"/><polygon points="1307.5,4389 1336.4,4372.3 1336.4,4405.7"/><polygon points="1339.1,4404.9 1368,4388.2 1368,4421.6"/><polygon points="1370.8,4343.7 1399.7,4327 1399.7,4360.4"/><polygon points="1402.4,4324.6 1431.3,4307.9 1431.3,4341.3"/><polygon points="1434.1,4389.8 1463,4373.1 1463,4406.5"/><polygon points="1465.7,4360.4 1494.6,4343.7 1494.6,4377.1"/><polygon points="1497.3,4341.3 1526.2,4324.6 1526.2,4358"/><polygon points="1529,4361.2 1557.9,4344.5 1557.9,4377.9"/><polygon points="1560.6,4366.7 1589.5,4350 1589.5,4383.4"/><polygon points="1592.3,4351.6 1621.2,4335 1621.2,4368.3"/><polygon points="1623.9,4333.4 1652.8,4316.7 1652.8,4350.1"/><polygon points="1655.5,4359.6 1684.4,4342.9 1684.4,4376.3"/><polygon points="1687.2,4363.6 1716.1,4346.9 1716.1,4380.2"/><polygon points="1718.8,4374.7 1747.7,4358 1747.7,4391.4"/><polygon points="1750.5,4328.6 1779.4,4311.9 1779.4,4345.3"/><polygon points="1782.1,4366.7 1811,4350 1811,4383.4"/><polygon points="1813.7,4363.6 1842.6,4346.9 1842.6,4380.2"/>
</g>
<g stroke="#0000FF" fill="none" stroke-width="2.6">
<polyline points="282.6,3369 314.3,3427 345.9,3469.1 377.6,3509.6 409.2,3585.8 440.8,3603.3 472.5,3666.9 504.1,3695.5 535.8,3760.6 567.4,3775.7 599,3864.7 630.7,3875.8 662.3,3943.3 694,3974.3 725.6,4062.5 757.2,4064.9 788.9,4137.2 820.5,4193.6 852.2,4220.6 883.8,4326.2 915.4,4341.3 947.1,4377.9 978.7,4427.9 1010.4,4427.9 1042,4396.9 1073.6,4395.3 1105.3,4427.9 1136.9,4399.3 1168.6,4380.2 1200.2,4376.3 1231.8,4358.8 1263.5,4347.7 1295.1,4374.7 1326.8,4353.2 1358.4,4405.7 1390,4415.2 1421.7,4430.3 1453.3,4393.7 1485,4385 1516.6,4375.5 1548.2,4350.8 1579.9,4347.7 1611.5,4363.6 1643.2,4360.4 1674.8,4339.7 1706.4,4396.1 1738.1,4332.6 1769.7,4392.2 1801.4,4369.1 1833,4357.2" stroke-dasharray="23.2 14.2"/>
<circle cx="282.6" cy="3369" r="14.5"/><circle cx="314.3" cy="3427" r="14.5"/><circle cx="345.9" cy="3469.1" r="14.5"/><circle cx="377.6" cy="3509.6" r="14.5"/><circle cx="409.2" cy="3585.8" r="14.5"/><circle cx="440.8" cy="3603.3" r="14.5"/><circle cx="472.5" cy="3666.9" r="14.5"/><circle cx="504.1" cy="3695.5" r="14.5"/><circle cx="535.8" cy="3760.6" r="14.5"/><circle cx="567.4" cy="3775.7" r="14.5"/><circle cx="599" cy="3864.7" r="14.5"/><circle cx="630.7" cy="3875.8" r="14.5"/><circle cx="662.3" cy="3943.3" r="14.5"/><circle cx="694" cy="3974.3" r="14.5"/><circle cx="725.6" cy="4062.5" r="14.5"/><circle cx="757.2" cy="4064.9" r="14.5"/><circle cx="788.9" cy="4137.2" r="14.5"/><circle cx="820.5" cy="4193.6" r="14.5"/><circle cx="852.2" cy="4220.6" r="14.5"/><circle cx="883.8" cy="4326.2" r="14.5"/><circle cx="915.4" cy="4341.3" r="14.5"/><circle cx="947.1" cy="4377.9" r="14.5"/><circle cx="978.7" cy="4427.9" r="14.5"/><circle cx="1010.4" cy="4427.9" r="14.5"/><circle cx="1042" cy="4396.9" r="14.5"/><circle cx="1073.6" cy="4395.3" r="14.5"/><circle cx="1105.3" cy="4427.9" r="14.5"/><circle cx="1136.9" cy="4399.3" r="14.5"/><circle cx="1168.6" cy="4380.2" r="14.5"/><circle cx="1200.2" cy="4376.3" r="14.5"/><circle cx="1231.8" cy="4358.8" r="14.5"/><circle cx="1263.5" cy="4347.7" r="14.5"/><circle cx="1295.1" cy="4374.7" r="14.5"/><circle cx="1326.8" cy="4353.2" r="14.5"/><circle cx="1358.4" cy="4405.7" r="14.5"/><circle cx="1390" cy="4415.2" r="14.5"/><circle cx="1421.7" cy="4430.3" r="14.5"/><circle cx="1453.3" cy="4393.7" r="14.5"/><circle cx="1485" cy="4385" r="14.5"/><circle cx="1516.6" cy="4375.5" r="14.5"/><circle cx="1548.2" cy="4350.8" r="14.5"/><circle cx="1579.9" cy="4347.7" r="14.5"/><circle cx="1611.5" cy="4363.6" r="14.5"/><circle cx="1643.2" cy="4360.4" r="14.5"/><circle cx="1674.8" cy="4339.7" r="14.5"/><circle cx="1706.4" cy="4396.1" r="14.5"/><circle cx="1738.1" cy="4332.6" r="14.5"/><circle cx="1769.7" cy="4392.2" r="14.5"/><circle cx="1801.4" cy="4369.1" r="14.5"/><circle cx="1833" cy="4357.2" r="14.5"/>
</g>
<g stroke="#0000FF" fill="none" stroke-width="2.6">
<polyline points="282.6,3403.9 314.3,3438.1 345.9,3474.6 377.6,3509.6 409.2,3574.7 440.8,3664.5 472.5,3674 504.1,3749.5 535.8,3793.2 567.4,3828.1 599,3897.2 630.7,3940.9 662.3,3989.4 694,4062.5 725.6,4095 757.2,4168.1 788.9,4203.1 820.5,4289.7 852.2,4307.2 883.8,4376.3 915.4,4453.3 947.1,4456.5 978.7,4474 1010.4,4451.7 1042,4454.9 1073.6,4436.6 1105.3,4432.7 1136.9,4373.1 1168.6,4445.4 1200.2,4449.4 1231.8,4453.3 1263.5,4442.2 1295.1,4419.2 1326.8,4434.3 1358.4,4443.8 1390,4415.2 1421.7,4385.8 1453.3,4381 1485,4416.8 1516.6,4427.1 1548.2,4394.5 1579.9,4424.7 1611.5,4426.3 1643.2,4446.2 1674.8,4408.8 1706.4,4396.1 1738.1,4424.7 1769.7,4355.6 1801.4,4359.6 1833,4357.2" stroke-dasharray="19.6 8.6 2.6 8.6"/>
<rect x="270.5" y="3391.8" width="24.3" height="24.3"/><rect x="302.1" y="3425.9" width="24.3" height="24.3"/><rect x="333.8" y="3462.5" width="24.3" height="24.3"/><rect x="365.4" y="3497.4" width="24.3" height="24.3"/><rect x="397" y="3562.6" width="24.3" height="24.3"/><rect x="428.7" y="3652.3" width="24.3" height="24.3"/><rect x="460.3" y="3661.9" width="24.3" height="24.3"/><rect x="492" y="3737.3" width="24.3" height="24.3"/><rect x="523.6" y="3781" width="24.3" height="24.3"/><rect x="555.2" y="3816" width="24.3" height="24.3"/><rect x="586.9" y="3885.1" width="24.3" height="24.3"/><rect x="618.5" y="3928.8" width="24.3" height="24.3"/><rect x="650.2" y="3977.2" width="24.3" height="24.3"/><rect x="681.8" y="4050.3" width="24.3" height="24.3"/><rect x="713.4" y="4082.9" width="24.3" height="24.3"/><rect x="745.1" y="4156" width="24.3" height="24.3"/><rect x="776.7" y="4190.9" width="24.3" height="24.3"/><rect x="808.4" y="4277.5" width="24.3" height="24.3"/><rect x="840" y="4295" width="24.3" height="24.3"/><rect x="871.6" y="4364.1" width="24.3" height="24.3"/><rect x="903.3" y="4441.2" width="24.3" height="24.3"/><rect x="934.9" y="4444.3" width="24.3" height="24.3"/><rect x="966.6" y="4461.8" width="24.3" height="24.3"/><rect x="998.2" y="4439.6" width="24.3" height="24.3"/><rect x="1029.8" y="4442.8" width="24.3" height="24.3"/><rect x="1061.5" y="4424.5" width="24.3" height="24.3"/><rect x="1093.1" y="4420.5" width="24.3" height="24.3"/><rect x="1124.8" y="4360.9" width="24.3" height="24.3"/><rect x="1156.4" y="4433.2" width="24.3" height="24.3"/><rect x="1188" y="4437.2" width="24.3" height="24.3"/><rect x="1219.7" y="4441.2" width="24.3" height="24.3"/><rect x="1251.3" y="4430" width="24.3" height="24.3"/><rect x="1283" y="4407" width="24.3" height="24.3"/><rect x="1314.6" y="4422.1" width="24.3" height="24.3"/><rect x="1346.2" y="4431.6" width="24.3" height="24.3"/><rect x="1377.9" y="4403" width="24.3" height="24.3"/><rect x="1409.5" y="4373.6" width="24.3" height="24.3"/><rect x="1441.2" y="4368.9" width="24.3" height="24.3"/><rect x="1472.8" y="4404.6" width="24.3" height="24.3"/><rect x="1504.4" y="4414.9" width="24.3" height="24.3"/><rect x="1536.1" y="4382.4" width="24.3" height="24.3"/><rect x="1567.7" y="4412.6" width="24.3" height="24.3"/><rect x="1599.4" y="4414.2" width="24.3" height="24.3"/><rect x="1631" y="4434" width="24.3" height="24.3"/><rect x="1662.6" y="4396.7" width="24.3" height="24.3"/><rect x="1694.3" y="4384" width="24.3" height="24.3"/><rect x="1725.9" y="4412.6" width="24.3" height="24.3"/><rect x="1757.6" y="4343.5" width="24.3" height="24.3"/><rect x="1789.2" y="4347.4" width="24.3" height="24.3"/><rect x="1820.8" y="4345" width="24.3" height="24.3"/>
</g>
<g stroke="#0000FF" fill="none" stroke-width="2.6">
<polyline points="282.6,3427 314.3,3332.4 345.9,3434.1 377.6,3474.6 409.2,3546.1 440.8,3618.4 472.5,3695.5 504.1,3747.1 535.8,3809.1 567.4,3852.8 599,3913.9 630.7,3990.2 662.3,4017.2 694,4076.8 725.6,4158.6 757.2,4183.2 788.9,4281.7 820.5,4301.6 852.2,4352.4 883.8,4357.2 915.4,4325.4 947.1,4361.2 978.7,4353.2 1010.4,4361.2 1042,4358 1073.6,4354 1105.3,4357.2 1136.9,4354.8 1168.6,4350.8 1200.2,4350.8 1231.8,4347.7 1263.5,4328.6 1295.1,4324.6 1326.8,4324.6 1358.4,4324.6 1390,4323 1421.7,4324.6 1453.3,4320.7 1485,4315.9 1516.6,4317.5 1548.2,4315.1 1579.9,4313.5 1611.5,4311.1 1643.2,4307.2 1674.8,4305.6 1706.4,4304 1738.1,4301.6 1769.7,4297.6 1801.4,4297.6 1833,4293.6" stroke-dasharray="2.6 7.1"/>
<polygon points="263.4,3427 292.3,3410.3 292.3,3443.6"/><polygon points="295,3332.4 323.9,3315.7 323.9,3349.1"/><polygon points="326.7,3434.1 355.6,3417.4 355.6,3450.8"/><polygon points="358.3,3474.6 387.2,3457.9 387.2,3491.3"/><polygon points="389.9,3546.1 418.8,3529.4 418.8,3562.8"/><polygon points="421.6,3618.4 450.5,3601.7 450.5,3635.1"/><polygon points="453.2,3695.5 482.1,3678.8 482.1,3712.2"/><polygon points="484.9,3747.1 513.8,3730.4 513.8,3763.8"/><polygon points="516.5,3809.1 545.4,3792.4 545.4,3825.8"/><polygon points="548.1,3852.8 577,3836.1 577,3869.4"/><polygon points="579.8,3913.9 608.7,3897.2 608.7,3930.6"/><polygon points="611.4,3990.2 640.3,3973.5 640.3,4006.9"/><polygon points="643.1,4017.2 672,4000.5 672,4033.9"/><polygon points="674.7,4076.8 703.6,4060.1 703.6,4093.5"/><polygon points="706.3,4158.6 735.2,4141.9 735.2,4175.3"/><polygon points="738,4183.2 766.9,4166.5 766.9,4199.9"/><polygon points="769.6,4281.7 798.5,4265 798.5,4298.4"/><polygon points="801.3,4301.6 830.2,4284.9 830.2,4318.3"/><polygon points="832.9,4352.4 861.8,4335.7 861.8,4369.1"/><polygon points="864.5,4357.2 893.4,4340.5 893.4,4373.9"/><polygon points="896.2,4325.4 925.1,4308.7 925.1,4342.1"/><polygon points="927.8,4361.2 956.7,4344.5 956.7,4377.9"/><polygon points="959.5,4353.2 988.4,4336.5 988.4,4369.9"/><polygon points="991.1,4361.2 1020,4344.5 1020,4377.9"/><polygon points="1022.7,4358 1051.6,4341.3 1051.6,4374.7"/><polygon points="1054.4,4354 1083.3,4337.3 1083.3,4370.7"/><polygon points="1086,4357.2 1114.9,4340.5 1114.9,4373.9"/><polygon points="1117.7,4354.8 1146.6,4338.1 1146.6,4371.5"/><polygon points="1149.3,4350.8 1178.2,4334.2 1178.2,4367.5"/><polygon points="1180.9,4350.8 1209.8,4334.2 1209.8,4367.5"/><polygon points="1212.6,4347.7 1241.5,4331 1241.5,4364.4"/><polygon points="1244.2,4328.6 1273.1,4311.9 1273.1,4345.3"/><polygon points="1275.9,4324.6 1304.8,4307.9 1304.8,4341.3"/><polygon points="1307.5,4324.6 1336.4,4307.9 1336.4,4341.3"/><polygon points="1339.1,4324.6 1368,4307.9 1368,4341.3"/><polygon points="1370.8,4323 1399.7,4306.4 1399.7,4339.7"/><polygon points="1402.4,4324.6 1431.3,4307.9 1431.3,4341.3"/><polygon points="1434.1,4320.7 1463,4304 1463,4337.3"/><polygon points="1465.7,4315.9 1494.6,4299.2 1494.6,4332.6"/><polygon points="1497.3,4317.5 1526.2,4300.8 1526.2,4334.2"/><polygon points="1529,4315.1 1557.9,4298.4 1557.9,4331.8"/><polygon points="1560.6,4313.5 1589.5,4296.8 1589.5,4330.2"/><polygon points="1592.3,4311.1 1621.2,4294.4 1621.2,4327.8"/><polygon points="1623.9,4307.2 1652.8,4290.5 1652.8,4323.8"/><polygon points="1655.5,4305.6 1684.4,4288.9 1684.4,4322.3"/><polygon points="1687.2,4304 1716.1,4287.3 1716.1,4320.7"/><polygon points="1718.8,4301.6 1747.7,4284.9 1747.7,4318.3"/><polygon points="1750.5,4297.6 1779.4,4280.9 1779.4,4314.3"/><polygon points="1782.1,4297.6 1811,4280.9 1811,4314.3"/><polygon points="1813.7,4293.6 1842.6,4277 1842.6,4310.3"/>
</g>
<g stroke="#FF8C00" fill="none" stroke-width="2.6">
<polyline points="282.6,3386.4 314.3,3405.5 345.9,3427 377.6,3440.5 409.2,3465.1 440.8,3493.7 472.5,3516.7 504.1,3565.2 535.8,3597.8 567.4,3595.4 599,3615.2 630.7,3649.4 662.3,3686.7 694,3692.3 725.6,3709.8 757.2,3738.4 788.9,3776.5 820.5,3780.5 852.2,3799.5 883.8,3855.1 915.4,3859.1 947.1,3871 978.7,3920.3 1010.4,3937.8 1042,3944.9 1073.6,3990.2 1105.3,4015.6 1136.9,4021.2 1168.6,4067.2 1200.2,4091.9 1231.8,4097.4 1263.5,4148.3 1295.1,4167.3 1326.8,4176.9 1358.4,4234.9 1390,4244.4 1421.7,4257.9 1453.3,4317.5 1485,4319.1 1516.6,4346.1 1548.2,4389.8 1579.9,4398.5 1611.5,4439 1643.2,4435.8 1674.8,4443.8 1706.4,4468.4 1738.1,4424.7 1769.7,4454.9 1801.4,4424.7 1833,4449.4" stroke-dasharray="23.2 14.2"/>
<circle cx="282.6" cy="3386.4" r="14.5"/><circle cx="314.3" cy="3405.5" r="14.5"/><circle cx="345.9" cy="3427" r="14.5"/><circle cx="377.6" cy="3440.5" r="14.5"/><circle cx="409.2" cy="3465.1" r="14.5"/><circle cx="440.8" cy="3493.7" r="14.5"/><circle cx="472.5" cy="3516.7" r="14.5"/><circle cx="504.1" cy="3565.2" r="14.5"/><circle cx="535.8" cy="3597.8" r="14.5"/><circle cx="567.4" cy="3595.4" r="14.5"/><circle cx="599" cy="3615.2" r="14.5"/><circle cx="630.7" cy="3649.4" r="14.5"/><circle cx="662.3" cy="3686.7" r="14.5"/><circle cx="694" cy="3692.3" r="14.5"/><circle cx="725.6" cy="3709.8" r="14.5"/><circle cx="757.2" cy="3738.4" r="14.5"/><circle cx="788.9" cy="3776.5" r="14.5"/><circle cx="820.5" cy="3780.5" r="14.5"/><circle cx="852.2" cy="3799.5" r="14.5"/><circle cx="883.8" cy="3855.1" r="14.5"/><circle cx="915.4" cy="3859.1" r="14.5"/><circle cx="947.1" cy="3871" r="14.5"/><circle cx="978.7" cy="3920.3" r="14.5"/><circle cx="1010.4" cy="3937.8" r="14.5"/><circle cx="1042" cy="3944.9" r="14.5"/><circle cx="1073.6" cy="3990.2" r="14.5"/><circle cx="1105.3" cy="4015.6" r="14.5"/><circle cx="1136.9" cy="4021.2" r="14.5"/><circle cx="1168.6" cy="4067.2" r="14.5"/><circle cx="1200.2" cy="4091.9" r="14.5"/><circle cx="1231.8" cy="4097.4" r="14.5"/><circle cx="1263.5" cy="4148.3" r="14.5"/><circle cx="1295.1" cy="4167.3" r="14.5"/><circle cx="1326.8" cy="4176.9" r="14.5"/><circle cx="1358.4" cy="4234.9" r="14.5"/><circle cx="1390" cy="4244.4" r="14.5"/><circle cx="1421.7" cy="4257.9" r="14.5"/><circle cx="1453.3" cy="4317.5" r="14.5"/><circle cx="1485" cy="4319.1" r="14.5"/><circle cx="1516.6" cy="4346.1" r="14.5"/><circle cx="1548.2" cy="4389.8" r="14.5"/><circle cx="1579.9" cy="4398.5" r="14.5"/><circle cx="1611.5" cy="4439" r="14.5"/><circle cx="1643.2" cy="4435.8" r="14.5"/><circle cx="1674.8" cy="4443.8" r="14.5"/><circle cx="1706.4" cy="4468.4" r="14.5"/><circle cx="1738.1" cy="4424.7" r="14.5"/><circle cx="1769.7" cy="4454.9" r="14.5"/><circle cx="1801.4" cy="4424.7" r="14.5"/><circle cx="1833" cy="4449.4" r="14.5"/>
</g>
<g stroke="#FF8C00" fill="none" stroke-width="2.6">
<polyline points="282.6,3423 314.3,3432.5 345.9,3447.6 377.6,3461.1 409.2,3480.2 440.8,3500 472.5,3519.1 504.1,3549.3 535.8,3581.9 567.4,3616.8 599,3680.4 630.7,3682 662.3,3689.9 694,3730.4 725.6,3782.1 757.2,3788.4 788.9,3803.5 820.5,3841.6 852.2,3883.7 883.8,3886.1 915.4,3913.1 947.1,3956.8 978.7,3971.9 1010.4,3991 1042,4029.1 1073.6,4057.7 1105.3,4071.2 1136.9,4107.8 1168.6,4140.3 1200.2,4153.8 1231.8,4190.4 1263.5,4221.4 1295.1,4236.5 1326.8,4278.6 1358.4,4300 1390,4323 1421.7,4370.7 1453.3,4380.2 1485,4412.8 1516.6,4457.3 1548.2,4461.3 1579.9,4489.9 1611.5,4489.9 1643.2,4482.7 1674.8,4484.3 1706.4,4514.5 1738.1,4472.4 1769.7,4491.5 1801.4,4501 1833,4451.7" stroke-dasharray="19.6 8.6 2.6 8.6"/>
<rect x="270.5" y="3410.8" width="24.3" height="24.3"/><rect x="302.1" y="3420.4" width="24.3" height="24.3"/><rect x="333.8" y="3435.5" width="24.3" height="24.3"/><rect x="365.4" y="3449" width="24.3" height="24.3"/><rect x="397" y="3468" width="24.3" height="24.3"/><rect x="428.7" y="3487.9" width="24.3" height="24.3"/><rect x="460.3" y="3506.9" width="24.3" height="24.3"/><rect x="492" y="3537.1" width="24.3" height="24.3"/><rect x="523.6" y="3569.7" width="24.3" height="24.3"/><rect x="555.2" y="3604.7" width="24.3" height="24.3"/><rect x="586.9" y="3668.2" width="24.3" height="24.3"/><rect x="618.5" y="3669.8" width="24.3" height="24.3"/><rect x="650.2" y="3677.7" width="24.3" height="24.3"/><rect x="681.8" y="3718.3" width="24.3" height="24.3"/><rect x="713.4" y="3769.9" width="24.3" height="24.3"/><rect x="745.1" y="3776.3" width="24.3" height="24.3"/><rect x="776.7" y="3791.3" width="24.3" height="24.3"/><rect x="808.4" y="3829.5" width="24.3" height="24.3"/><rect x="840" y="3871.6" width="24.3" height="24.3"/><rect x="871.6" y="3874" width="24.3" height="24.3"/><rect x="903.3" y="3901" width="24.3" height="24.3"/><rect x="934.9" y="3944.7" width="24.3" height="24.3"/><rect x="966.6" y="3959.8" width="24.3" height="24.3"/><rect x="998.2" y="3978.8" width="24.3" height="24.3"/><rect x="1029.8" y="4017" width="24.3" height="24.3"/><rect x="1061.5" y="4045.6" width="24.3" height="24.3"/><rect x="1093.1" y="4059.1" width="24.3" height="24.3"/><rect x="1124.8" y="4095.6" width="24.3" height="24.3"/><rect x="1156.4" y="4128.2" width="24.3" height="24.3"/><rect x="1188" y="4141.7" width="24.3" height="24.3"/><rect x="1219.7" y="4178.2" width="24.3" height="24.3"/><rect x="1251.3" y="4209.2" width="24.3" height="24.3"/><rect x="1283" y="4224.3" width="24.3" height="24.3"/><rect x="1314.6" y="4266.4" width="24.3" height="24.3"/><rect x="1346.2" y="4287.8" width="24.3" height="24.3"/><rect x="1377.9" y="4310.9" width="24.3" height="24.3"/><rect x="1409.5" y="4358.5" width="24.3" height="24.3"/><rect x="1441.2" y="4368.1" width="24.3" height="24.3"/><rect x="1472.8" y="4400.6" width="24.3" height="24.3"/><rect x="1504.4" y="4445.1" width="24.3" height="24.3"/><rect x="1536.1" y="4449.1" width="24.3" height="24.3"/><rect x="1567.7" y="4477.7" width="24.3" height="24.3"/><rect x="1599.4" y="4477.7" width="24.3" height="24.3"/><rect x="1631" y="4470.6" width="24.3" height="24.3"/><rect x="1662.6" y="4472.1" width="24.3" height="24.3"/><rect x="1694.3" y="4502.3" width="24.3" height="24.3"/><rect x="1725.9" y="4460.2" width="24.3" height="24.3"/><rect x="1757.6" y="4479.3" width="24.3" height="24.3"/><rect x="1789.2" y="4488.8" width="24.3" height="24.3"/><rect x="1820.8" y="4439.6" width="24.3" height="24.3"/>
</g>
<g stroke="#FF8C00" fill="none" stroke-width="2.6">
<polyline points="282.6,3360.2 314.3,3305.4 345.9,3342 377.6,3376.9 409.2,3423 440.8,3466.7 472.5,3488.1 504.1,3519.1 535.8,3528.6 567.4,3561.2 599,3622.4 630.7,3678 662.3,3674.8 694,3692.3 725.6,3759 757.2,3782.1 788.9,3780.5 820.5,3830.5 852.2,3868.6 883.8,3868.6 915.4,3899.6 947.1,3948.1 978.7,3954.4 1010.4,3979.9 1042,4022.8 1073.6,4036.3 1105.3,4053.7 1136.9,4099.8 1168.6,4110.9 1200.2,4130.8 1231.8,4168.9 1263.5,4190.4 1295.1,4207.9 1326.8,4250 1358.4,4236.5 1390,4236.5 1421.7,4247.6 1453.3,4247.6 1485,4243.6 1516.6,4243.6 1548.2,4242 1579.9,4236.5 1611.5,4236.5 1643.2,4234.1 1674.8,4230.9 1706.4,4230.9 1738.1,4226.9 1769.7,4222.9 1801.4,4221.4 1833,4217.4" stroke-dasharray="2.6 7.1"/>
<polygon points="263.4,3360.2 292.3,3343.5 292.3,3376.9"/><polygon points="295,3305.4 323.9,3288.7 323.9,3322.1"/><polygon points="326.7,3342 355.6,3325.3 355.6,3358.6"/><polygon points="358.3,3376.9 387.2,3360.2 387.2,3393.6"/><polygon points="389.9,3423 418.8,3406.3 418.8,3439.7"/><polygon points="421.6,3466.7 450.5,3450 450.5,3483.4"/><polygon points="453.2,3488.1 482.1,3471.4 482.1,3504.8"/><polygon points="484.9,3519.1 513.8,3502.4 513.8,3535.8"/><polygon points="516.5,3528.6 545.4,3512 545.4,3545.3"/><polygon points="548.1,3561.2 577,3544.5 577,3577.9"/><polygon points="579.8,3622.4 608.7,3605.7 608.7,3639.1"/><polygon points="611.4,3678 640.3,3661.3 640.3,3694.7"/><polygon points="643.1,3674.8 672,3658.1 672,3691.5"/><polygon points="674.7,3692.3 703.6,3675.6 703.6,3709"/><polygon points="706.3,3759 735.2,3742.3 735.2,3775.7"/><polygon points="738,3782.1 766.9,3765.4 766.9,3798.7"/><polygon points="769.6,3780.5 798.5,3763.8 798.5,3797.2"/><polygon points="801.3,3830.5 830.2,3813.8 830.2,3847.2"/><polygon points="832.9,3868.6 861.8,3852 861.8,3885.3"/><polygon points="864.5,3868.6 893.4,3852 893.4,3885.3"/><polygon points="896.2,3899.6 925.1,3882.9 925.1,3916.3"/><polygon points="927.8,3948.1 956.7,3931.4 956.7,3964.8"/><polygon points="959.5,3954.4 988.4,3937.8 988.4,3971.1"/><polygon points="991.1,3979.9 1020,3963.2 1020,3996.5"/><polygon points="1022.7,4022.8 1051.6,4006.1 1051.6,4039.4"/><polygon points="1054.4,4036.3 1083.3,4019.6 1083.3,4052.9"/><polygon points="1086,4053.7 1114.9,4037.1 1114.9,4070.4"/><polygon points="1117.7,4099.8 1146.6,4083.1 1146.6,4116.5"/><polygon points="1149.3,4110.9 1178.2,4094.2 1178.2,4127.6"/><polygon points="1180.9,4130.8 1209.8,4114.1 1209.8,4147.5"/><polygon points="1212.6,4168.9 1241.5,4152.2 1241.5,4185.6"/><polygon points="1244.2,4190.4 1273.1,4173.7 1273.1,4207.1"/><polygon points="1275.9,4207.9 1304.8,4191.2 1304.8,4224.5"/><polygon points="1307.5,4250 1336.4,4233.3 1336.4,4266.6"/><polygon points="1339.1,4236.5 1368,4219.8 1368,4253.1"/><polygon points="1370.8,4236.5 1399.7,4219.8 1399.7,4253.1"/><polygon points="1402.4,4247.6 1431.3,4230.9 1431.3,4264.3"/><polygon points="1434.1,4247.6 1463,4230.9 1463,4264.3"/><polygon points="1465.7,4243.6 1494.6,4226.9 1494.6,4260.3"/><polygon points="1497.3,4243.6 1526.2,4226.9 1526.2,4260.3"/><polygon points="1529,4242 1557.9,4225.3 1557.9,4258.7"/><polygon points="1560.6,4236.5 1589.5,4219.8 1589.5,4253.1"/><polygon points="1592.3,4236.5 1621.2,4219.8 1621.2,4253.1"/><polygon points="1623.9,4234.1 1652.8,4217.4 1652.8,4250.8"/><polygon points="1655.5,4230.9 1684.4,4214.2 1684.4,4247.6"/><polygon points="1687.2,4230.9 1716.1,4214.2 1716.1,4247.6"/><polygon points="1718.8,4226.9 1747.7,4210.2 1747.7,4243.6"/><polygon points="1750.5,4222.9 1779.4,4206.3 1779.4,4239.6"/><polygon points="1782.1,4221.4 1811,4204.7 1811,4238"/><polygon points="1813.7,4217.4 1842.6,4200.7 1842.6,4234.1"/>
</g>
<rect x="1166.6" y="417" width="262.7" height="246" fill="#fff" stroke="#262626" stroke-width="1.6"/>
<g stroke="#000" stroke-width="1.6" fill="none">
<path d="M1176.1 450.4H1302.1"/>
<path d="M1239.1 437.6V463.2M1226.3 450.4H1251.9M1230 441.3L1248.2 459.5M1230 459.5L1248.2 441.3"/>
</g>
<text x="1309.5" y="469.9" font-family="'Liberation Sans', Arial, Helvetica, sans-serif" font-size="44.5" fill="#000">r = -1</text>
<g stroke="#000" stroke-width="1.6" fill="none">
<path d="M1176.1 510.5H1302.1" stroke-dasharray="20 13"/>
<circle cx="1239.1" cy="510.5" r="11.7"/>
</g>
<text x="1309.5" y="530" font-family="'Liberation Sans', Arial, Helvetica, sans-serif" font-size="44.5" fill="#000">r = 0</text>
<g stroke="#000" stroke-width="1.6" fill="none">
<path d="M1176.1 570.5H1302.1" stroke-dasharray="16 7.5 2 7.5"/>
<rect x="1231.1" y="562.5" width="16" height="16"/>
</g>
<text x="1309.5" y="590" font-family="'Liberation Sans', Arial, Helvetica, sans-serif" font-size="44.5" fill="#000">r = 1</text>
<g stroke="#000" stroke-width="1.6" fill="none">
<path d="M1176.1 630.6H1302.1" stroke-dasharray="1.6 6.9"/>
<polygon points="1239.1,645.9 1225.9,623 1252.3,623"/>
</g>
<text x="1309.5" y="650.1" font-family="'Liberation Sans', Arial, Helvetica, sans-serif" font-size="44.5" fill="#000">r = 2</text>
<rect x="1258.1" y="2040.7" width="277" height="202.5" fill="#fff" stroke="#262626" stroke-width="1.7"/>
<g stroke="#000" stroke-width="1.7" fill="none">
<path d="M1268.8 2077.6H1409.8" stroke-dasharray="21.8 14.2"/>
<circle cx="1339.3" cy="2077.6" r="12.8"/>
</g>
<text x="1418" y="2097.4" font-family="'Liberation Sans', Arial, Helvetica, sans-serif" font-size="51" fill="#000">r = 0</text>
<g stroke="#000" stroke-width="1.7" fill="none">
<path d="M1268.8 2143.3H1409.8" stroke-dasharray="17.4 8.2 2.2 8.2"/>
<rect x="1330.6" y="2134.6" width="17.4" height="17.4"/>
</g>
<text x="1418" y="2163.1" font-family="'Liberation Sans', Arial, Helvetica, sans-serif" font-size="51" fill="#000">r = 1</text>
<g stroke="#000" stroke-width="1.7" fill="none">
<path d="M1268.8 2207H1409.8" stroke-dasharray="1.7 7.5"/>
<polygon points="1339.3,2223.7 1324.9,2198.7 1353.7,2198.7"/>
</g>
<text x="1418" y="2226.8" font-family="'Liberation Sans', Arial, Helvetica, sans-serif" font-size="51" fill="#000">r = 2</text>
<rect x="1056.4" y="3629.7" width="265.2" height="194.7" fill="#fff" stroke="#262626" stroke-width="1.7"/>
<g stroke="#000" stroke-width="1.7" fill="none">
<path d="M1066.5 3665.7H1201.5" stroke-dasharray="21.4 13.9"/>
<circle cx="1134" cy="3665.7" r="12.5"/>
</g>
<text x="1210.5" y="3684.7" font-family="'Liberation Sans', Arial, Helvetica, sans-serif" font-size="49.8" fill="#000">r = 0</text>
<g stroke="#000" stroke-width="1.7" fill="none">
<path d="M1066.5 3728.4H1201.5" stroke-dasharray="17.1 8 2.1 8"/>
<rect x="1125.4" y="3719.8" width="17.1" height="17.1"/>
</g>
<text x="1210.5" y="3747.4" font-family="'Liberation Sans', Arial, Helvetica, sans-serif" font-size="49.8" fill="#000">r = 1</text>
<g stroke="#000" stroke-width="1.7" fill="none">
<path d="M1066.5 3790H1201.5" stroke-dasharray="1.7 7.4"/>
<polygon points="1134,3806.4 1119.8,3781.8 1148.2,3781.8"/>
</g>
<text x="1210.5" y="3809" font-family="'Liberation Sans', Arial, Helvetica, sans-serif" font-size="49.8" fill="#000">r = 2</text>
<rect x="650.8" y="200.7" width="976.2" height="129.1" fill="none" stroke="#000" stroke-width="2.6"/>
<text font-family="'Liberation Sans', Arial, Helvetica, sans-serif" font-size="47.3" fill="#000"><tspan x="674.7" y="278" font-family="'Liberation Serif', 'Times New Roman', serif" font-style="italic" textLength="21.2" lengthAdjust="spacingAndGlyphs">τ</tspan><tspan x="709" y="278">= 10</tspan><tspan x="802.7" y="254.5" font-size="37.7">-1</tspan><tspan x="851.8" y="278">(black), 10</tspan><tspan x="1072.2" y="254.5" font-size="37.7">-2</tspan><tspan x="1120.8" y="278">(blue), 10</tspan><tspan x="1321.4" y="254.5" font-size="37.7">-3</tspan><tspan x="1370.5" y="278">(orange)</tspan></text>
<rect x="758.9" y="1827.2" width="996.9" height="113" fill="none" stroke="#000" stroke-width="2.7"/>
<text font-family="'Liberation Sans', Arial, Helvetica, sans-serif" font-size="49.3" fill="#000"><tspan x="783.2" y="1909" font-family="'Liberation Serif', 'Times New Roman', serif" font-style="italic" textLength="22.1" lengthAdjust="spacingAndGlyphs">τ</tspan><tspan x="818.9" y="1909">= 10</tspan><tspan x="916.7" y="1884.5" font-size="39.3">-1</tspan><tspan x="967.9" y="1909">(black), 10</tspan><tspan x="1197.8" y="1884.5" font-size="39.3">-2</tspan><tspan x="1248.5" y="1909">(blue), 10</tspan><tspan x="1457.7" y="1884.5" font-size="39.3">-3</tspan><tspan x="1508.9" y="1909">(orange)</tspan></text>
<rect x="669.4" y="3389.5" width="967" height="116.3" fill="none" stroke="#000" stroke-width="2.7"/>
<text font-family="'Liberation Sans', Arial, Helvetica, sans-serif" font-size="48.7" fill="#000"><tspan x="693" y="3469.8" font-family="'Liberation Serif', 'Times New Roman', serif" font-style="italic" textLength="21.8" lengthAdjust="spacingAndGlyphs">τ</tspan><tspan x="728.3" y="3469.8">= 10</tspan><tspan x="824.8" y="3445.6" font-size="38.8">-1</tspan><tspan x="875.4" y="3469.8">(black), 10</tspan><tspan x="1102.4" y="3445.6" font-size="38.8">-2</tspan><tspan x="1152.4" y="3469.8">(blue), 10</tspan><tspan x="1359.1" y="3445.6" font-size="38.8">-3</tspan><tspan x="1409.6" y="3469.8">(orange)</tspan></text>
<text transform="translate(82 756.8) rotate(-90)" text-anchor="middle" font-family="'Liberation Sans', Arial, Helvetica, sans-serif" font-size="53.2" fill="#262626">Discrete L<tspan font-size="42.6" dy="-23.9">2</tspan><tspan dy="23.9">-error</tspan></text>
<text transform="translate(87.8 2361) rotate(-90)" text-anchor="middle" font-family="'Liberation Sans', Arial, Helvetica, sans-serif" font-size="56.4" fill="#262626">Discrete L<tspan font-size="45.1" dy="-25.4">2</tspan><tspan dy="25.4">-error</tspan></text>
<text transform="translate(105.3 3985) rotate(-90)" text-anchor="middle" font-family="'Liberation Sans', Arial, Helvetica, sans-serif" font-size="55.1" fill="#262626">Discrete L<tspan font-size="44.1" dy="-24.8">2</tspan><tspan dy="24.8">-error</tspan></text>
<text x="1004.7" y="1504" text-anchor="middle" font-family="'Liberation Sans', Arial, Helvetica, sans-serif" font-size="53" fill="#262626">m</text>
<text x="1037.3" y="3115.5" text-anchor="middle" font-family="'Liberation Sans', Arial, Helvetica, sans-serif" font-size="54.5" fill="#262626">m</text>
<text x="1041" y="4698.8" text-anchor="middle" font-family="'Liberation Sans', Arial, Helvetica, sans-serif" font-size="54" fill="#262626">m</text>
<text x="613.2" y="97.2" font-family="'Liberation Serif', 'Times New Roman', serif" font-size="56" fill="#000" stroke="#000" stroke-width="1.1" textLength="410.2" lengthAdjust="spacingAndGlyphs">Approximating</text>
<text font-family="'Liberation Serif', 'Times New Roman', serif" fill="#000"><tspan x="1048.1" y="97.2" font-weight="bold" font-style="italic" font-size="56" textLength="37" lengthAdjust="spacingAndGlyphs">φ</tspan><tspan x="1086.1" y="105.2" font-weight="normal" font-style="italic" font-size="39" textLength="21.7" lengthAdjust="spacingAndGlyphs">r</tspan><tspan x="1108.7" y="105.2" font-weight="normal" font-style="normal" font-size="39" textLength="35.8" lengthAdjust="spacingAndGlyphs">+</tspan><tspan x="1143.9" y="105.2" font-weight="normal" font-style="normal" font-size="39" textLength="23.5" lengthAdjust="spacingAndGlyphs">1</tspan><tspan x="1173" y="97.2" font-weight="normal" font-style="normal" font-size="56" textLength="18.6" lengthAdjust="spacingAndGlyphs">(</tspan><tspan x="1195.8" y="97.2" font-weight="bold" font-style="italic" font-size="56" textLength="30.3" lengthAdjust="spacingAndGlyphs">τ</tspan><tspan x="1238" y="97.2" font-weight="bold" font-style="italic" font-size="56" textLength="42.5" lengthAdjust="spacingAndGlyphs">A</tspan><tspan x="1278.4" y="105.2" font-weight="normal" font-style="italic" font-size="39" textLength="22.3" lengthAdjust="spacingAndGlyphs">h</tspan><tspan x="1304.2" y="105.2" font-weight="normal" font-style="normal" font-size="39" textLength="7.3" lengthAdjust="spacingAndGlyphs">,</tspan><tspan x="1313" y="105.2" font-weight="normal" font-style="normal" font-size="39" textLength="27.7" lengthAdjust="spacingAndGlyphs">0</tspan><tspan x="1345.6" y="97.2" font-weight="normal" font-style="normal" font-size="56" textLength="13.3" lengthAdjust="spacingAndGlyphs">)</tspan><tspan x="1370" y="97.2" font-weight="bold" font-style="italic" font-size="56" textLength="42" lengthAdjust="spacingAndGlyphs">P</tspan><tspan x="1409.4" y="105.2" font-weight="normal" font-style="italic" font-size="39" textLength="22.8" lengthAdjust="spacingAndGlyphs">h</tspan><tspan x="1436.4" y="97.2" font-weight="bold" font-style="italic" font-size="56" textLength="37.4" lengthAdjust="spacingAndGlyphs">α</tspan></text>
<text x="579.8" y="1648.6" font-family="'Liberation Serif', 'Times New Roman', serif" font-size="56" fill="#000" stroke="#000" stroke-width="1.1" textLength="404.8" lengthAdjust="spacingAndGlyphs">Approximating</text>
<text font-family="'Liberation Serif', 'Times New Roman', serif" fill="#000"><tspan x="1008.1" y="1648.6" font-weight="bold" font-style="italic" font-size="56" textLength="35.3" lengthAdjust="spacingAndGlyphs">φ</tspan><tspan x="1044.2" y="1656.6" font-weight="normal" font-style="italic" font-size="39" textLength="22.9" lengthAdjust="spacingAndGlyphs">r</tspan><tspan x="1068.2" y="1656.6" font-weight="normal" font-style="normal" font-size="39" textLength="35.2" lengthAdjust="spacingAndGlyphs">+</tspan><tspan x="1102.6" y="1656.6" font-weight="normal" font-style="normal" font-size="39" textLength="22.3" lengthAdjust="spacingAndGlyphs">1</tspan><tspan x="1130.6" y="1648.6" font-weight="normal" font-style="normal" font-size="56" textLength="18.3" lengthAdjust="spacingAndGlyphs">(</tspan><tspan x="1152" y="1648.6" font-weight="bold" font-style="italic" font-size="56" textLength="30.9" lengthAdjust="spacingAndGlyphs">τ</tspan><tspan x="1195" y="1648.6" font-weight="bold" font-style="italic" font-size="56" textLength="43.9" lengthAdjust="spacingAndGlyphs">A</tspan><tspan x="1235.3" y="1656.6" font-weight="normal" font-style="italic" font-size="39" textLength="22.8" lengthAdjust="spacingAndGlyphs">h</tspan><tspan x="1261.3" y="1656.6" font-weight="normal" font-style="normal" font-size="39" textLength="7.2" lengthAdjust="spacingAndGlyphs">,</tspan><tspan x="1269.3" y="1656.6" font-weight="normal" font-style="normal" font-size="39" textLength="26.4" lengthAdjust="spacingAndGlyphs">0</tspan><tspan x="1301" y="1648.6" font-weight="normal" font-style="normal" font-size="56" textLength="13.4" lengthAdjust="spacingAndGlyphs">)</tspan><tspan x="1315.6" y="1648.6" font-weight="bold" font-style="italic" font-size="56" textLength="47.9" lengthAdjust="spacingAndGlyphs">C</tspan><tspan x="1362.8" y="1656.6" font-weight="normal" font-style="italic" font-size="39" textLength="28.2" lengthAdjust="spacingAndGlyphs">h</tspan><tspan x="1399.7" y="1648.6" font-weight="bold" font-style="italic" font-size="56" stroke="#000" stroke-width="1.6">∂</tspan><tspan x="1436.6" y="1648.6" font-weight="bold" font-style="italic" font-size="56" textLength="33.1" lengthAdjust="spacingAndGlyphs">α</tspan></text>
<text x="656.5" y="3251.5" font-family="'Liberation Serif', 'Times New Roman', serif" font-size="56" fill="#000" stroke="#000" stroke-width="1.1" textLength="409.1" lengthAdjust="spacingAndGlyphs">Approximating</text>
<text font-family="'Liberation Serif', 'Times New Roman', serif" fill="#000"><tspan x="1091.6" y="3251.5" font-weight="bold" font-style="italic" font-size="56" textLength="36.4" lengthAdjust="spacingAndGlyphs">φ</tspan><tspan x="1131.6" y="3259.5" font-weight="normal" font-style="italic" font-size="39" textLength="18.8" lengthAdjust="spacingAndGlyphs">r</tspan><tspan x="1152.7" y="3259.5" font-weight="normal" font-style="normal" font-size="39" textLength="36.7" lengthAdjust="spacingAndGlyphs">+</tspan><tspan x="1188" y="3259.5" font-weight="normal" font-style="normal" font-size="39" textLength="24.1" lengthAdjust="spacingAndGlyphs">1</tspan><tspan x="1217.5" y="3251.5" font-weight="normal" font-style="normal" font-size="56" textLength="18.3" lengthAdjust="spacingAndGlyphs">(</tspan><tspan x="1240" y="3251.5" font-weight="bold" font-style="italic" font-size="56" textLength="31" lengthAdjust="spacingAndGlyphs">τ</tspan><tspan x="1282.1" y="3251.5" font-weight="bold" font-style="italic" font-size="56" textLength="41" lengthAdjust="spacingAndGlyphs">A</tspan><tspan x="1325" y="3259.5" font-weight="normal" font-style="italic" font-size="39" textLength="21.3" lengthAdjust="spacingAndGlyphs">h</tspan><tspan x="1349.3" y="3259.5" font-weight="normal" font-style="normal" font-size="39" textLength="7.2" lengthAdjust="spacingAndGlyphs">,</tspan><tspan x="1356.9" y="3259.5" font-weight="normal" font-style="normal" font-size="39" textLength="24.6" lengthAdjust="spacingAndGlyphs">0</tspan><tspan x="1390.4" y="3251.5" font-weight="normal" font-style="normal" font-size="56" textLength="12.4" lengthAdjust="spacingAndGlyphs">)</tspan><tspan x="1414.8" y="3251.5" font-weight="bold" font-style="italic" font-size="56" textLength="27.8" lengthAdjust="spacingAndGlyphs">v</tspan><tspan x="1445.5" y="3259.5" font-weight="normal" font-style="italic" font-size="39" textLength="18.9" lengthAdjust="spacingAndGlyphs">r</tspan><tspan x="1469.3" y="3259.5" font-weight="normal" font-style="normal" font-size="39" textLength="32.9" lengthAdjust="spacingAndGlyphs">+</tspan><tspan x="1504.2" y="3259.5" font-weight="normal" font-style="normal" font-size="39" textLength="19.2" lengthAdjust="spacingAndGlyphs">1</tspan></text>
</svg></body></html>
